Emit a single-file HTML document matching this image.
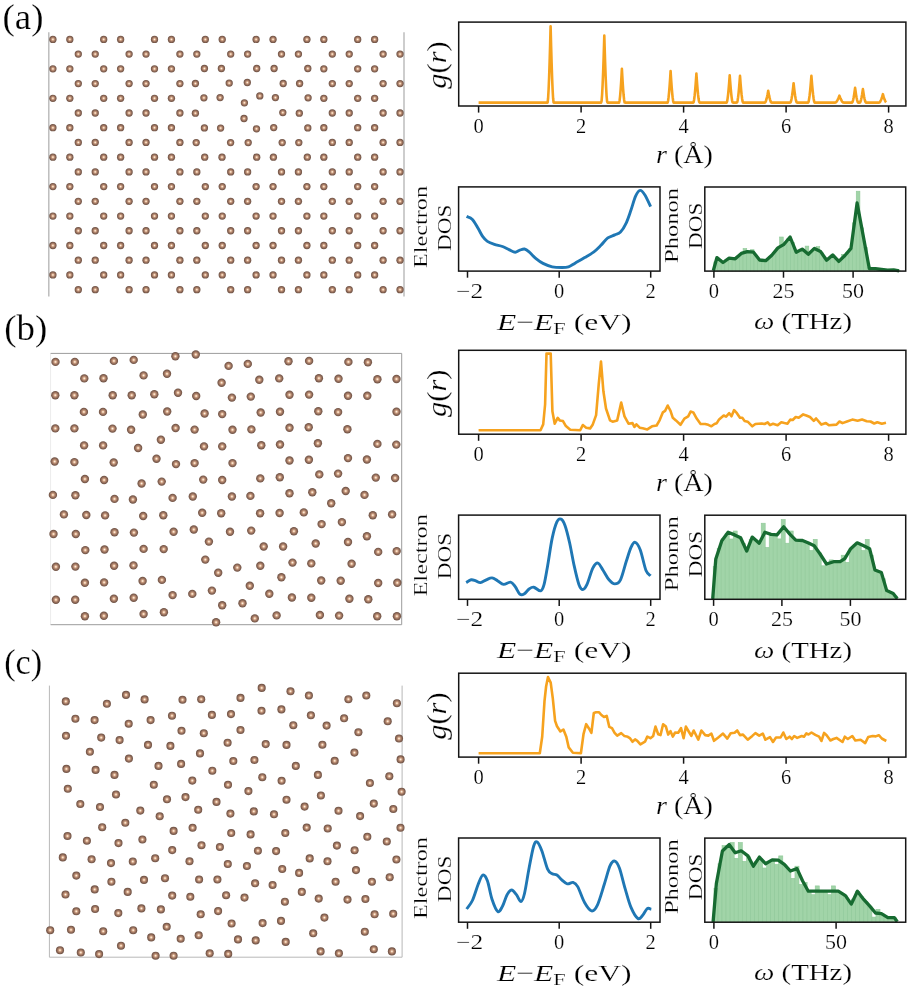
<!DOCTYPE html><html><head><meta charset="utf-8"><title>figure</title><style>html,body{margin:0;padding:0;background:#fff;overflow:hidden;}svg{display:block;}</style></head><body><svg width="907" height="989" viewBox="0 0 907 989" font-family="'Liberation Serif', 'DejaVu Serif', serif" fill="#000"><style>text{stroke:#fff;stroke-width:0.2px;paint-order:fill;}</style><defs><radialGradient id="ball" cx="0.5" cy="0.5" r="0.5"><stop offset="0" stop-color="#fff8f0"/><stop offset="0.13" stop-color="#f8dcc4"/><stop offset="0.36" stop-color="#c99b7c"/><stop offset="0.62" stop-color="#9b7361"/><stop offset="0.86" stop-color="#7b5b4b"/><stop offset="1" stop-color="#6d5245"/></radialGradient></defs><rect width="907" height="989" fill="#fff"/><text x="2.5" y="28.7" font-size="35" text-anchor="start" textLength="41" lengthAdjust="spacingAndGlyphs">(a)</text><text x="4.2" y="340.3" font-size="35" text-anchor="start" textLength="43" lengthAdjust="spacingAndGlyphs">(b)</text><text x="4.2" y="674" font-size="35" text-anchor="start" textLength="38" lengthAdjust="spacingAndGlyphs">(c)</text><g stroke="#b8b8b8" stroke-width="1.4"><line x1="48.8" y1="32.3" x2="48.8" y2="296.5"/><line x1="404" y1="32.3" x2="404" y2="296.5"/></g><circle cx="52.9" cy="39.4" r="3.65" fill="url(#ball)"/><circle cx="69.83" cy="39.4" r="3.65" fill="url(#ball)"/><circle cx="103.7" cy="39.4" r="3.65" fill="url(#ball)"/><circle cx="120.63" cy="39.4" r="3.65" fill="url(#ball)"/><circle cx="154.5" cy="39.4" r="3.65" fill="url(#ball)"/><circle cx="171.43" cy="39.4" r="3.65" fill="url(#ball)"/><circle cx="205.3" cy="39.4" r="3.65" fill="url(#ball)"/><circle cx="222.23" cy="39.4" r="3.65" fill="url(#ball)"/><circle cx="256.1" cy="39.4" r="3.65" fill="url(#ball)"/><circle cx="273.03" cy="39.4" r="3.65" fill="url(#ball)"/><circle cx="306.9" cy="39.4" r="3.65" fill="url(#ball)"/><circle cx="323.83" cy="39.4" r="3.65" fill="url(#ball)"/><circle cx="357.7" cy="39.4" r="3.65" fill="url(#ball)"/><circle cx="374.63" cy="39.4" r="3.65" fill="url(#ball)"/><circle cx="78.3" cy="54.12" r="3.65" fill="url(#ball)"/><circle cx="95.23" cy="54.12" r="3.65" fill="url(#ball)"/><circle cx="129.1" cy="54.12" r="3.65" fill="url(#ball)"/><circle cx="146.03" cy="54.12" r="3.65" fill="url(#ball)"/><circle cx="179.9" cy="54.12" r="3.65" fill="url(#ball)"/><circle cx="196.83" cy="54.12" r="3.65" fill="url(#ball)"/><circle cx="230.7" cy="54.12" r="3.65" fill="url(#ball)"/><circle cx="247.63" cy="54.12" r="3.65" fill="url(#ball)"/><circle cx="281.5" cy="54.12" r="3.65" fill="url(#ball)"/><circle cx="298.43" cy="54.12" r="3.65" fill="url(#ball)"/><circle cx="332.3" cy="54.12" r="3.65" fill="url(#ball)"/><circle cx="349.23" cy="54.12" r="3.65" fill="url(#ball)"/><circle cx="383.1" cy="54.12" r="3.65" fill="url(#ball)"/><circle cx="400.03" cy="54.12" r="3.65" fill="url(#ball)"/><circle cx="52.9" cy="68.84" r="3.65" fill="url(#ball)"/><circle cx="69.83" cy="68.84" r="3.65" fill="url(#ball)"/><circle cx="103.7" cy="68.84" r="3.65" fill="url(#ball)"/><circle cx="120.63" cy="68.84" r="3.65" fill="url(#ball)"/><circle cx="154.5" cy="68.84" r="3.65" fill="url(#ball)"/><circle cx="171.43" cy="68.84" r="3.65" fill="url(#ball)"/><circle cx="323.83" cy="68.84" r="3.65" fill="url(#ball)"/><circle cx="357.7" cy="68.84" r="3.65" fill="url(#ball)"/><circle cx="374.63" cy="68.84" r="3.65" fill="url(#ball)"/><circle cx="78.3" cy="83.56" r="3.65" fill="url(#ball)"/><circle cx="95.23" cy="83.56" r="3.65" fill="url(#ball)"/><circle cx="129.1" cy="83.56" r="3.65" fill="url(#ball)"/><circle cx="146.03" cy="83.56" r="3.65" fill="url(#ball)"/><circle cx="179.9" cy="83.56" r="3.65" fill="url(#ball)"/><circle cx="332.3" cy="83.56" r="3.65" fill="url(#ball)"/><circle cx="349.23" cy="83.56" r="3.65" fill="url(#ball)"/><circle cx="383.1" cy="83.56" r="3.65" fill="url(#ball)"/><circle cx="400.03" cy="83.56" r="3.65" fill="url(#ball)"/><circle cx="52.9" cy="98.28" r="3.65" fill="url(#ball)"/><circle cx="69.83" cy="98.28" r="3.65" fill="url(#ball)"/><circle cx="103.7" cy="98.28" r="3.65" fill="url(#ball)"/><circle cx="120.63" cy="98.28" r="3.65" fill="url(#ball)"/><circle cx="154.5" cy="98.28" r="3.65" fill="url(#ball)"/><circle cx="171.43" cy="98.28" r="3.65" fill="url(#ball)"/><circle cx="323.83" cy="98.28" r="3.65" fill="url(#ball)"/><circle cx="357.7" cy="98.28" r="3.65" fill="url(#ball)"/><circle cx="374.63" cy="98.28" r="3.65" fill="url(#ball)"/><circle cx="78.3" cy="113" r="3.65" fill="url(#ball)"/><circle cx="95.23" cy="113" r="3.65" fill="url(#ball)"/><circle cx="129.1" cy="113" r="3.65" fill="url(#ball)"/><circle cx="146.03" cy="113" r="3.65" fill="url(#ball)"/><circle cx="179.9" cy="113" r="3.65" fill="url(#ball)"/><circle cx="332.3" cy="113" r="3.65" fill="url(#ball)"/><circle cx="349.23" cy="113" r="3.65" fill="url(#ball)"/><circle cx="383.1" cy="113" r="3.65" fill="url(#ball)"/><circle cx="400.03" cy="113" r="3.65" fill="url(#ball)"/><circle cx="52.9" cy="127.72" r="3.65" fill="url(#ball)"/><circle cx="69.83" cy="127.72" r="3.65" fill="url(#ball)"/><circle cx="103.7" cy="127.72" r="3.65" fill="url(#ball)"/><circle cx="120.63" cy="127.72" r="3.65" fill="url(#ball)"/><circle cx="154.5" cy="127.72" r="3.65" fill="url(#ball)"/><circle cx="171.43" cy="127.72" r="3.65" fill="url(#ball)"/><circle cx="323.83" cy="127.72" r="3.65" fill="url(#ball)"/><circle cx="357.7" cy="127.72" r="3.65" fill="url(#ball)"/><circle cx="374.63" cy="127.72" r="3.65" fill="url(#ball)"/><circle cx="78.3" cy="142.44" r="3.65" fill="url(#ball)"/><circle cx="95.23" cy="142.44" r="3.65" fill="url(#ball)"/><circle cx="129.1" cy="142.44" r="3.65" fill="url(#ball)"/><circle cx="146.03" cy="142.44" r="3.65" fill="url(#ball)"/><circle cx="179.9" cy="142.44" r="3.65" fill="url(#ball)"/><circle cx="332.3" cy="142.44" r="3.65" fill="url(#ball)"/><circle cx="349.23" cy="142.44" r="3.65" fill="url(#ball)"/><circle cx="383.1" cy="142.44" r="3.65" fill="url(#ball)"/><circle cx="400.03" cy="142.44" r="3.65" fill="url(#ball)"/><circle cx="52.9" cy="157.16" r="3.65" fill="url(#ball)"/><circle cx="69.83" cy="157.16" r="3.65" fill="url(#ball)"/><circle cx="103.7" cy="157.16" r="3.65" fill="url(#ball)"/><circle cx="120.63" cy="157.16" r="3.65" fill="url(#ball)"/><circle cx="154.5" cy="157.16" r="3.65" fill="url(#ball)"/><circle cx="171.43" cy="157.16" r="3.65" fill="url(#ball)"/><circle cx="323.83" cy="157.16" r="3.65" fill="url(#ball)"/><circle cx="357.7" cy="157.16" r="3.65" fill="url(#ball)"/><circle cx="374.63" cy="157.16" r="3.65" fill="url(#ball)"/><circle cx="78.3" cy="171.88" r="3.65" fill="url(#ball)"/><circle cx="95.23" cy="171.88" r="3.65" fill="url(#ball)"/><circle cx="129.1" cy="171.88" r="3.65" fill="url(#ball)"/><circle cx="146.03" cy="171.88" r="3.65" fill="url(#ball)"/><circle cx="179.9" cy="171.88" r="3.65" fill="url(#ball)"/><circle cx="196.83" cy="171.88" r="3.65" fill="url(#ball)"/><circle cx="230.7" cy="171.88" r="3.65" fill="url(#ball)"/><circle cx="247.63" cy="171.88" r="3.65" fill="url(#ball)"/><circle cx="281.5" cy="171.88" r="3.65" fill="url(#ball)"/><circle cx="298.43" cy="171.88" r="3.65" fill="url(#ball)"/><circle cx="332.3" cy="171.88" r="3.65" fill="url(#ball)"/><circle cx="349.23" cy="171.88" r="3.65" fill="url(#ball)"/><circle cx="383.1" cy="171.88" r="3.65" fill="url(#ball)"/><circle cx="400.03" cy="171.88" r="3.65" fill="url(#ball)"/><circle cx="52.9" cy="186.6" r="3.65" fill="url(#ball)"/><circle cx="69.83" cy="186.6" r="3.65" fill="url(#ball)"/><circle cx="103.7" cy="186.6" r="3.65" fill="url(#ball)"/><circle cx="120.63" cy="186.6" r="3.65" fill="url(#ball)"/><circle cx="154.5" cy="186.6" r="3.65" fill="url(#ball)"/><circle cx="171.43" cy="186.6" r="3.65" fill="url(#ball)"/><circle cx="205.3" cy="186.6" r="3.65" fill="url(#ball)"/><circle cx="222.23" cy="186.6" r="3.65" fill="url(#ball)"/><circle cx="256.1" cy="186.6" r="3.65" fill="url(#ball)"/><circle cx="273.03" cy="186.6" r="3.65" fill="url(#ball)"/><circle cx="306.9" cy="186.6" r="3.65" fill="url(#ball)"/><circle cx="323.83" cy="186.6" r="3.65" fill="url(#ball)"/><circle cx="357.7" cy="186.6" r="3.65" fill="url(#ball)"/><circle cx="374.63" cy="186.6" r="3.65" fill="url(#ball)"/><circle cx="78.3" cy="201.32" r="3.65" fill="url(#ball)"/><circle cx="95.23" cy="201.32" r="3.65" fill="url(#ball)"/><circle cx="129.1" cy="201.32" r="3.65" fill="url(#ball)"/><circle cx="146.03" cy="201.32" r="3.65" fill="url(#ball)"/><circle cx="179.9" cy="201.32" r="3.65" fill="url(#ball)"/><circle cx="196.83" cy="201.32" r="3.65" fill="url(#ball)"/><circle cx="230.7" cy="201.32" r="3.65" fill="url(#ball)"/><circle cx="247.63" cy="201.32" r="3.65" fill="url(#ball)"/><circle cx="281.5" cy="201.32" r="3.65" fill="url(#ball)"/><circle cx="298.43" cy="201.32" r="3.65" fill="url(#ball)"/><circle cx="332.3" cy="201.32" r="3.65" fill="url(#ball)"/><circle cx="349.23" cy="201.32" r="3.65" fill="url(#ball)"/><circle cx="383.1" cy="201.32" r="3.65" fill="url(#ball)"/><circle cx="400.03" cy="201.32" r="3.65" fill="url(#ball)"/><circle cx="52.9" cy="216.04" r="3.65" fill="url(#ball)"/><circle cx="69.83" cy="216.04" r="3.65" fill="url(#ball)"/><circle cx="103.7" cy="216.04" r="3.65" fill="url(#ball)"/><circle cx="120.63" cy="216.04" r="3.65" fill="url(#ball)"/><circle cx="154.5" cy="216.04" r="3.65" fill="url(#ball)"/><circle cx="171.43" cy="216.04" r="3.65" fill="url(#ball)"/><circle cx="205.3" cy="216.04" r="3.65" fill="url(#ball)"/><circle cx="222.23" cy="216.04" r="3.65" fill="url(#ball)"/><circle cx="256.1" cy="216.04" r="3.65" fill="url(#ball)"/><circle cx="273.03" cy="216.04" r="3.65" fill="url(#ball)"/><circle cx="306.9" cy="216.04" r="3.65" fill="url(#ball)"/><circle cx="323.83" cy="216.04" r="3.65" fill="url(#ball)"/><circle cx="357.7" cy="216.04" r="3.65" fill="url(#ball)"/><circle cx="374.63" cy="216.04" r="3.65" fill="url(#ball)"/><circle cx="78.3" cy="230.76" r="3.65" fill="url(#ball)"/><circle cx="95.23" cy="230.76" r="3.65" fill="url(#ball)"/><circle cx="129.1" cy="230.76" r="3.65" fill="url(#ball)"/><circle cx="146.03" cy="230.76" r="3.65" fill="url(#ball)"/><circle cx="179.9" cy="230.76" r="3.65" fill="url(#ball)"/><circle cx="196.83" cy="230.76" r="3.65" fill="url(#ball)"/><circle cx="230.7" cy="230.76" r="3.65" fill="url(#ball)"/><circle cx="247.63" cy="230.76" r="3.65" fill="url(#ball)"/><circle cx="281.5" cy="230.76" r="3.65" fill="url(#ball)"/><circle cx="298.43" cy="230.76" r="3.65" fill="url(#ball)"/><circle cx="332.3" cy="230.76" r="3.65" fill="url(#ball)"/><circle cx="349.23" cy="230.76" r="3.65" fill="url(#ball)"/><circle cx="383.1" cy="230.76" r="3.65" fill="url(#ball)"/><circle cx="400.03" cy="230.76" r="3.65" fill="url(#ball)"/><circle cx="52.9" cy="245.48" r="3.65" fill="url(#ball)"/><circle cx="69.83" cy="245.48" r="3.65" fill="url(#ball)"/><circle cx="103.7" cy="245.48" r="3.65" fill="url(#ball)"/><circle cx="120.63" cy="245.48" r="3.65" fill="url(#ball)"/><circle cx="154.5" cy="245.48" r="3.65" fill="url(#ball)"/><circle cx="171.43" cy="245.48" r="3.65" fill="url(#ball)"/><circle cx="205.3" cy="245.48" r="3.65" fill="url(#ball)"/><circle cx="222.23" cy="245.48" r="3.65" fill="url(#ball)"/><circle cx="256.1" cy="245.48" r="3.65" fill="url(#ball)"/><circle cx="273.03" cy="245.48" r="3.65" fill="url(#ball)"/><circle cx="306.9" cy="245.48" r="3.65" fill="url(#ball)"/><circle cx="323.83" cy="245.48" r="3.65" fill="url(#ball)"/><circle cx="357.7" cy="245.48" r="3.65" fill="url(#ball)"/><circle cx="374.63" cy="245.48" r="3.65" fill="url(#ball)"/><circle cx="78.3" cy="260.2" r="3.65" fill="url(#ball)"/><circle cx="95.23" cy="260.2" r="3.65" fill="url(#ball)"/><circle cx="129.1" cy="260.2" r="3.65" fill="url(#ball)"/><circle cx="146.03" cy="260.2" r="3.65" fill="url(#ball)"/><circle cx="179.9" cy="260.2" r="3.65" fill="url(#ball)"/><circle cx="196.83" cy="260.2" r="3.65" fill="url(#ball)"/><circle cx="230.7" cy="260.2" r="3.65" fill="url(#ball)"/><circle cx="247.63" cy="260.2" r="3.65" fill="url(#ball)"/><circle cx="281.5" cy="260.2" r="3.65" fill="url(#ball)"/><circle cx="298.43" cy="260.2" r="3.65" fill="url(#ball)"/><circle cx="332.3" cy="260.2" r="3.65" fill="url(#ball)"/><circle cx="349.23" cy="260.2" r="3.65" fill="url(#ball)"/><circle cx="383.1" cy="260.2" r="3.65" fill="url(#ball)"/><circle cx="400.03" cy="260.2" r="3.65" fill="url(#ball)"/><circle cx="52.9" cy="274.92" r="3.65" fill="url(#ball)"/><circle cx="69.83" cy="274.92" r="3.65" fill="url(#ball)"/><circle cx="103.7" cy="274.92" r="3.65" fill="url(#ball)"/><circle cx="120.63" cy="274.92" r="3.65" fill="url(#ball)"/><circle cx="154.5" cy="274.92" r="3.65" fill="url(#ball)"/><circle cx="171.43" cy="274.92" r="3.65" fill="url(#ball)"/><circle cx="205.3" cy="274.92" r="3.65" fill="url(#ball)"/><circle cx="222.23" cy="274.92" r="3.65" fill="url(#ball)"/><circle cx="256.1" cy="274.92" r="3.65" fill="url(#ball)"/><circle cx="273.03" cy="274.92" r="3.65" fill="url(#ball)"/><circle cx="306.9" cy="274.92" r="3.65" fill="url(#ball)"/><circle cx="323.83" cy="274.92" r="3.65" fill="url(#ball)"/><circle cx="357.7" cy="274.92" r="3.65" fill="url(#ball)"/><circle cx="374.63" cy="274.92" r="3.65" fill="url(#ball)"/><circle cx="78.3" cy="289.64" r="3.65" fill="url(#ball)"/><circle cx="95.23" cy="289.64" r="3.65" fill="url(#ball)"/><circle cx="129.1" cy="289.64" r="3.65" fill="url(#ball)"/><circle cx="146.03" cy="289.64" r="3.65" fill="url(#ball)"/><circle cx="179.9" cy="289.64" r="3.65" fill="url(#ball)"/><circle cx="196.83" cy="289.64" r="3.65" fill="url(#ball)"/><circle cx="230.7" cy="289.64" r="3.65" fill="url(#ball)"/><circle cx="247.63" cy="289.64" r="3.65" fill="url(#ball)"/><circle cx="281.5" cy="289.64" r="3.65" fill="url(#ball)"/><circle cx="298.43" cy="289.64" r="3.65" fill="url(#ball)"/><circle cx="332.3" cy="289.64" r="3.65" fill="url(#ball)"/><circle cx="349.23" cy="289.64" r="3.65" fill="url(#ball)"/><circle cx="383.1" cy="289.64" r="3.65" fill="url(#ball)"/><circle cx="400.03" cy="289.64" r="3.65" fill="url(#ball)"/><circle cx="204.4" cy="68.5" r="3.65" fill="url(#ball)"/><circle cx="221.4" cy="68.5" r="3.65" fill="url(#ball)"/><circle cx="256.7" cy="68.5" r="3.65" fill="url(#ball)"/><circle cx="274.1" cy="68.5" r="3.65" fill="url(#ball)"/><circle cx="307.8" cy="68.5" r="3.65" fill="url(#ball)"/><circle cx="195.4" cy="83.5" r="3.65" fill="url(#ball)"/><circle cx="229.2" cy="83.1" r="3.65" fill="url(#ball)"/><circle cx="247.3" cy="82.5" r="3.65" fill="url(#ball)"/><circle cx="283.2" cy="83.5" r="3.65" fill="url(#ball)"/><circle cx="299.6" cy="83.5" r="3.65" fill="url(#ball)"/><circle cx="203.9" cy="97.8" r="3.65" fill="url(#ball)"/><circle cx="220.1" cy="97.6" r="3.65" fill="url(#ball)"/><circle cx="259.8" cy="95.9" r="3.65" fill="url(#ball)"/><circle cx="275.4" cy="97.6" r="3.65" fill="url(#ball)"/><circle cx="308.1" cy="97.8" r="3.65" fill="url(#ball)"/><circle cx="244.4" cy="102.8" r="3.65" fill="url(#ball)"/><circle cx="195.4" cy="113.2" r="3.65" fill="url(#ball)"/><circle cx="244" cy="118.5" r="3.65" fill="url(#ball)"/><circle cx="282.8" cy="112.6" r="3.65" fill="url(#ball)"/><circle cx="299.3" cy="113.2" r="3.65" fill="url(#ball)"/><circle cx="204.4" cy="127.9" r="3.65" fill="url(#ball)"/><circle cx="220.6" cy="128.1" r="3.65" fill="url(#ball)"/><circle cx="256.5" cy="128.8" r="3.65" fill="url(#ball)"/><circle cx="273.7" cy="127.6" r="3.65" fill="url(#ball)"/><circle cx="307.8" cy="127.9" r="3.65" fill="url(#ball)"/><circle cx="196.2" cy="142.6" r="3.65" fill="url(#ball)"/><circle cx="230.6" cy="142.6" r="3.65" fill="url(#ball)"/><circle cx="248.2" cy="142.6" r="3.65" fill="url(#ball)"/><circle cx="282.2" cy="142.6" r="3.65" fill="url(#ball)"/><circle cx="298.8" cy="142.6" r="3.65" fill="url(#ball)"/><circle cx="204.7" cy="157.2" r="3.65" fill="url(#ball)"/><circle cx="222" cy="157.2" r="3.65" fill="url(#ball)"/><circle cx="256.7" cy="157.2" r="3.65" fill="url(#ball)"/><circle cx="273.4" cy="157.2" r="3.65" fill="url(#ball)"/><circle cx="307.3" cy="157.2" r="3.65" fill="url(#ball)"/><line x1="50.6" y1="353.4" x2="50.6" y2="624.7" stroke="#ececec" stroke-width="1"/><polyline points="50.6,353.4 401.7,353.4 401.7,624.7 50.6,624.7" fill="none" stroke="#9c9c9c" stroke-width="1"/><circle cx="55.5" cy="361.9" r="4.2" fill="url(#ball)"/><circle cx="74.8" cy="361.9" r="4.2" fill="url(#ball)"/><circle cx="113.9" cy="360.9" r="4.2" fill="url(#ball)"/><circle cx="133.7" cy="359.9" r="4.2" fill="url(#ball)"/><circle cx="175.4" cy="356.3" r="4.2" fill="url(#ball)"/><circle cx="195.8" cy="354.5" r="4.2" fill="url(#ball)"/><circle cx="84.3" cy="378.4" r="4.2" fill="url(#ball)"/><circle cx="103.5" cy="378.2" r="4.2" fill="url(#ball)"/><circle cx="143.6" cy="375.4" r="4.2" fill="url(#ball)"/><circle cx="167" cy="373.8" r="4.2" fill="url(#ball)"/><circle cx="221.6" cy="382.7" r="4.2" fill="url(#ball)"/><circle cx="55.3" cy="395.2" r="4.2" fill="url(#ball)"/><circle cx="74.4" cy="395.2" r="4.2" fill="url(#ball)"/><circle cx="112.7" cy="395.2" r="4.2" fill="url(#ball)"/><circle cx="131.7" cy="395.2" r="4.2" fill="url(#ball)"/><circle cx="154.3" cy="394.2" r="4.2" fill="url(#ball)"/><circle cx="178" cy="392.7" r="4.2" fill="url(#ball)"/><circle cx="196.2" cy="396" r="4.2" fill="url(#ball)"/><circle cx="83.9" cy="411.9" r="4.2" fill="url(#ball)"/><circle cx="103" cy="411.9" r="4.2" fill="url(#ball)"/><circle cx="142.8" cy="414.5" r="4.2" fill="url(#ball)"/><circle cx="167.2" cy="411.5" r="4.2" fill="url(#ball)"/><circle cx="204.6" cy="413.5" r="4.2" fill="url(#ball)"/><circle cx="222.2" cy="414.1" r="4.2" fill="url(#ball)"/><circle cx="55.3" cy="428.4" r="4.2" fill="url(#ball)"/><circle cx="74.4" cy="428.4" r="4.2" fill="url(#ball)"/><circle cx="112.5" cy="428.6" r="4.2" fill="url(#ball)"/><circle cx="131.1" cy="429.8" r="4.2" fill="url(#ball)"/><circle cx="175.6" cy="428" r="4.2" fill="url(#ball)"/><circle cx="194.6" cy="429.6" r="4.2" fill="url(#ball)"/><circle cx="160.9" cy="439.7" r="4.2" fill="url(#ball)"/><circle cx="84.1" cy="445.4" r="4.2" fill="url(#ball)"/><circle cx="103.1" cy="445.4" r="4.2" fill="url(#ball)"/><circle cx="138.1" cy="448" r="4.2" fill="url(#ball)"/><circle cx="204" cy="446.4" r="4.2" fill="url(#ball)"/><circle cx="222.2" cy="446.4" r="4.2" fill="url(#ball)"/><circle cx="54.7" cy="461.5" r="4.2" fill="url(#ball)"/><circle cx="74.4" cy="462.1" r="4.2" fill="url(#ball)"/><circle cx="113.7" cy="462.5" r="4.2" fill="url(#ball)"/><circle cx="156.5" cy="458.7" r="4.2" fill="url(#ball)"/><circle cx="176" cy="464.1" r="4.2" fill="url(#ball)"/><circle cx="194.6" cy="463.1" r="4.2" fill="url(#ball)"/><circle cx="84.9" cy="479" r="4.2" fill="url(#ball)"/><circle cx="104.1" cy="480" r="4.2" fill="url(#ball)"/><circle cx="141.6" cy="483.5" r="4.2" fill="url(#ball)"/><circle cx="161.7" cy="481.6" r="4.2" fill="url(#ball)"/><circle cx="203.2" cy="479.6" r="4.2" fill="url(#ball)"/><circle cx="222.2" cy="480" r="4.2" fill="url(#ball)"/><circle cx="228.6" cy="365.9" r="4.2" fill="url(#ball)"/><circle cx="247.8" cy="363.9" r="4.2" fill="url(#ball)"/><circle cx="288.5" cy="361.3" r="4.2" fill="url(#ball)"/><circle cx="309.1" cy="360.9" r="4.2" fill="url(#ball)"/><circle cx="348.4" cy="361.9" r="4.2" fill="url(#ball)"/><circle cx="367.9" cy="362.3" r="4.2" fill="url(#ball)"/><circle cx="259.3" cy="379.8" r="4.2" fill="url(#ball)"/><circle cx="279.2" cy="378.4" r="4.2" fill="url(#ball)"/><circle cx="318.9" cy="378.2" r="4.2" fill="url(#ball)"/><circle cx="338.5" cy="378.8" r="4.2" fill="url(#ball)"/><circle cx="377.4" cy="379.2" r="4.2" fill="url(#ball)"/><circle cx="396.5" cy="379" r="4.2" fill="url(#ball)"/><circle cx="231.9" cy="397.6" r="4.2" fill="url(#ball)"/><circle cx="250.8" cy="396.6" r="4.2" fill="url(#ball)"/><circle cx="289.5" cy="394.8" r="4.2" fill="url(#ball)"/><circle cx="309.1" cy="394.6" r="4.2" fill="url(#ball)"/><circle cx="348" cy="395.8" r="4.2" fill="url(#ball)"/><circle cx="367.3" cy="395.8" r="4.2" fill="url(#ball)"/><circle cx="260.7" cy="412.5" r="4.2" fill="url(#ball)"/><circle cx="280" cy="411.7" r="4.2" fill="url(#ball)"/><circle cx="318.3" cy="411.3" r="4.2" fill="url(#ball)"/><circle cx="338.1" cy="412.1" r="4.2" fill="url(#ball)"/><circle cx="396.5" cy="411.7" r="4.2" fill="url(#ball)"/><circle cx="232.5" cy="429.8" r="4.2" fill="url(#ball)"/><circle cx="251.4" cy="429.4" r="4.2" fill="url(#ball)"/><circle cx="289.5" cy="427.8" r="4.2" fill="url(#ball)"/><circle cx="308.7" cy="427.2" r="4.2" fill="url(#ball)"/><circle cx="347.4" cy="429.2" r="4.2" fill="url(#ball)"/><circle cx="261.3" cy="445.2" r="4.2" fill="url(#ball)"/><circle cx="280" cy="444.5" r="4.2" fill="url(#ball)"/><circle cx="317.9" cy="443.3" r="4.2" fill="url(#ball)"/><circle cx="377.4" cy="443.9" r="4.2" fill="url(#ball)"/><circle cx="396.3" cy="444.6" r="4.2" fill="url(#ball)"/><circle cx="232.5" cy="463.1" r="4.2" fill="url(#ball)"/><circle cx="289.5" cy="460.5" r="4.2" fill="url(#ball)"/><circle cx="308.9" cy="459.7" r="4.2" fill="url(#ball)"/><circle cx="348" cy="458.1" r="4.2" fill="url(#ball)"/><circle cx="366.9" cy="459.5" r="4.2" fill="url(#ball)"/><circle cx="260.3" cy="478.4" r="4.2" fill="url(#ball)"/><circle cx="279.8" cy="477.2" r="4.2" fill="url(#ball)"/><circle cx="319.3" cy="474.4" r="4.2" fill="url(#ball)"/><circle cx="338.1" cy="473.6" r="4.2" fill="url(#ball)"/><circle cx="375.8" cy="477.6" r="4.2" fill="url(#ball)"/><circle cx="395.1" cy="478" r="4.2" fill="url(#ball)"/><circle cx="52.9" cy="494.9" r="4.2" fill="url(#ball)"/><circle cx="75.4" cy="495.3" r="4.2" fill="url(#ball)"/><circle cx="114.5" cy="498.9" r="4.2" fill="url(#ball)"/><circle cx="132.9" cy="499.5" r="4.2" fill="url(#ball)"/><circle cx="172.6" cy="497.9" r="4.2" fill="url(#ball)"/><circle cx="192.8" cy="496.5" r="4.2" fill="url(#ball)"/><circle cx="63.9" cy="514.4" r="4.2" fill="url(#ball)"/><circle cx="86.3" cy="515" r="4.2" fill="url(#ball)"/><circle cx="105.1" cy="515.4" r="4.2" fill="url(#ball)"/><circle cx="143.2" cy="516" r="4.2" fill="url(#ball)"/><circle cx="163.3" cy="515.2" r="4.2" fill="url(#ball)"/><circle cx="202.2" cy="512.8" r="4.2" fill="url(#ball)"/><circle cx="221.2" cy="513.2" r="4.2" fill="url(#ball)"/><circle cx="53.5" cy="534" r="4.2" fill="url(#ball)"/><circle cx="75.8" cy="534" r="4.2" fill="url(#ball)"/><circle cx="114.5" cy="532.2" r="4.2" fill="url(#ball)"/><circle cx="133.9" cy="532.6" r="4.2" fill="url(#ball)"/><circle cx="173.6" cy="531.8" r="4.2" fill="url(#ball)"/><circle cx="193.8" cy="529.5" r="4.2" fill="url(#ball)"/><circle cx="208.9" cy="541.6" r="4.2" fill="url(#ball)"/><circle cx="85.3" cy="550.1" r="4.2" fill="url(#ball)"/><circle cx="104.5" cy="549.5" r="4.2" fill="url(#ball)"/><circle cx="143.6" cy="548.9" r="4.2" fill="url(#ball)"/><circle cx="163.7" cy="549.1" r="4.2" fill="url(#ball)"/><circle cx="205.3" cy="559.6" r="4.2" fill="url(#ball)"/><circle cx="55.9" cy="566.8" r="4.2" fill="url(#ball)"/><circle cx="75.4" cy="566.6" r="4.2" fill="url(#ball)"/><circle cx="114.1" cy="565.8" r="4.2" fill="url(#ball)"/><circle cx="133.5" cy="565.4" r="4.2" fill="url(#ball)"/><circle cx="218.2" cy="572.7" r="4.2" fill="url(#ball)"/><circle cx="84.9" cy="582.8" r="4.2" fill="url(#ball)"/><circle cx="104.1" cy="582.4" r="4.2" fill="url(#ball)"/><circle cx="142.6" cy="581" r="4.2" fill="url(#ball)"/><circle cx="161.9" cy="579.9" r="4.2" fill="url(#ball)"/><circle cx="55.9" cy="599.7" r="4.2" fill="url(#ball)"/><circle cx="75.2" cy="599.7" r="4.2" fill="url(#ball)"/><circle cx="113.9" cy="598.7" r="4.2" fill="url(#ball)"/><circle cx="133.7" cy="597.7" r="4.2" fill="url(#ball)"/><circle cx="172.6" cy="595.1" r="4.2" fill="url(#ball)"/><circle cx="192.3" cy="593.9" r="4.2" fill="url(#ball)"/><circle cx="211.9" cy="590.6" r="4.2" fill="url(#ball)"/><circle cx="222.2" cy="605.3" r="4.2" fill="url(#ball)"/><circle cx="84.9" cy="616.2" r="4.2" fill="url(#ball)"/><circle cx="103.9" cy="615.8" r="4.2" fill="url(#ball)"/><circle cx="143.6" cy="614" r="4.2" fill="url(#ball)"/><circle cx="163.9" cy="612.2" r="4.2" fill="url(#ball)"/><circle cx="216.1" cy="622.3" r="4.2" fill="url(#ball)"/><circle cx="231.9" cy="496.5" r="4.2" fill="url(#ball)"/><circle cx="250.4" cy="495.9" r="4.2" fill="url(#ball)"/><circle cx="289.5" cy="493.3" r="4.2" fill="url(#ball)"/><circle cx="312.3" cy="492.3" r="4.2" fill="url(#ball)"/><circle cx="345.7" cy="491" r="4.2" fill="url(#ball)"/><circle cx="364.5" cy="494.9" r="4.2" fill="url(#ball)"/><circle cx="331.2" cy="503.3" r="4.2" fill="url(#ball)"/><circle cx="260.1" cy="513.2" r="4.2" fill="url(#ball)"/><circle cx="279.6" cy="513" r="4.2" fill="url(#ball)"/><circle cx="303.8" cy="512.4" r="4.2" fill="url(#ball)"/><circle cx="372.8" cy="515.2" r="4.2" fill="url(#ball)"/><circle cx="392.1" cy="514.4" r="4.2" fill="url(#ball)"/><circle cx="321.6" cy="524.1" r="4.2" fill="url(#ball)"/><circle cx="341.9" cy="522.1" r="4.2" fill="url(#ball)"/><circle cx="230" cy="531.8" r="4.2" fill="url(#ball)"/><circle cx="251.2" cy="530.6" r="4.2" fill="url(#ball)"/><circle cx="293.9" cy="531.2" r="4.2" fill="url(#ball)"/><circle cx="366.9" cy="536.2" r="4.2" fill="url(#ball)"/><circle cx="263.7" cy="546.5" r="4.2" fill="url(#ball)"/><circle cx="283.1" cy="546.5" r="4.2" fill="url(#ball)"/><circle cx="315.7" cy="543.5" r="4.2" fill="url(#ball)"/><circle cx="348" cy="542" r="4.2" fill="url(#ball)"/><circle cx="378.2" cy="551.9" r="4.2" fill="url(#ball)"/><circle cx="396.7" cy="551.1" r="4.2" fill="url(#ball)"/><circle cx="237.3" cy="567.6" r="4.2" fill="url(#ball)"/><circle cx="260.3" cy="565.8" r="4.2" fill="url(#ball)"/><circle cx="292.5" cy="562.6" r="4.2" fill="url(#ball)"/><circle cx="311.3" cy="563.4" r="4.2" fill="url(#ball)"/><circle cx="351.6" cy="563.8" r="4.2" fill="url(#ball)"/><circle cx="281.4" cy="577.3" r="4.2" fill="url(#ball)"/><circle cx="249.8" cy="585.8" r="4.2" fill="url(#ball)"/><circle cx="321.2" cy="580.5" r="4.2" fill="url(#ball)"/><circle cx="340.7" cy="580.7" r="4.2" fill="url(#ball)"/><circle cx="378.2" cy="583" r="4.2" fill="url(#ball)"/><circle cx="397.3" cy="582.8" r="4.2" fill="url(#ball)"/><circle cx="269.3" cy="593.8" r="4.2" fill="url(#ball)"/><circle cx="291.9" cy="597.5" r="4.2" fill="url(#ball)"/><circle cx="311.3" cy="597.7" r="4.2" fill="url(#ball)"/><circle cx="349.4" cy="598.7" r="4.2" fill="url(#ball)"/><circle cx="368.3" cy="599.3" r="4.2" fill="url(#ball)"/><circle cx="242.5" cy="603.3" r="4.2" fill="url(#ball)"/><circle cx="254.8" cy="618.4" r="4.2" fill="url(#ball)"/><circle cx="276.6" cy="615.4" r="4.2" fill="url(#ball)"/><circle cx="319.9" cy="615" r="4.2" fill="url(#ball)"/><circle cx="339.1" cy="615.6" r="4.2" fill="url(#ball)"/><circle cx="377.2" cy="616.2" r="4.2" fill="url(#ball)"/><circle cx="396.9" cy="616.2" r="4.2" fill="url(#ball)"/><g stroke="#b8b8b8" stroke-width="1"><line x1="49.4" y1="685.6" x2="49.4" y2="957.2"/><line x1="402.1" y1="685.6" x2="402.1" y2="957.2"/><line x1="49.4" y1="957.2" x2="402.1" y2="957.2"/></g><circle cx="65.8" cy="701.4" r="4.05" fill="url(#ball)"/><circle cx="106.9" cy="703.8" r="4.05" fill="url(#ball)"/><circle cx="126" cy="694.9" r="4.05" fill="url(#ball)"/><circle cx="144.6" cy="699.4" r="4.05" fill="url(#ball)"/><circle cx="182.5" cy="699.8" r="4.05" fill="url(#ball)"/><circle cx="201.2" cy="699.2" r="4.05" fill="url(#ball)"/><circle cx="75.4" cy="718.7" r="4.05" fill="url(#ball)"/><circle cx="94.6" cy="720.1" r="4.05" fill="url(#ball)"/><circle cx="128.7" cy="723.7" r="4.05" fill="url(#ball)"/><circle cx="150.6" cy="720.1" r="4.05" fill="url(#ball)"/><circle cx="172" cy="715.7" r="4.05" fill="url(#ball)"/><circle cx="211.9" cy="714.9" r="4.05" fill="url(#ball)"/><circle cx="66" cy="735.8" r="4.05" fill="url(#ball)"/><circle cx="101.2" cy="737.6" r="4.05" fill="url(#ball)"/><circle cx="119.6" cy="740.1" r="4.05" fill="url(#ball)"/><circle cx="148" cy="744.9" r="4.05" fill="url(#ball)"/><circle cx="170.4" cy="745.9" r="4.05" fill="url(#ball)"/><circle cx="181.5" cy="730.8" r="4.05" fill="url(#ball)"/><circle cx="203.8" cy="733.2" r="4.05" fill="url(#ball)"/><circle cx="89.9" cy="751.8" r="4.05" fill="url(#ball)"/><circle cx="128.9" cy="758.6" r="4.05" fill="url(#ball)"/><circle cx="200" cy="753.4" r="4.05" fill="url(#ball)"/><circle cx="66.4" cy="768.9" r="4.05" fill="url(#ball)"/><circle cx="95.6" cy="769.9" r="4.05" fill="url(#ball)"/><circle cx="114.5" cy="774.9" r="4.05" fill="url(#ball)"/><circle cx="158.5" cy="765.9" r="4.05" fill="url(#ball)"/><circle cx="181.1" cy="763.9" r="4.05" fill="url(#ball)"/><circle cx="212.3" cy="770.7" r="4.05" fill="url(#ball)"/><circle cx="67.8" cy="788.8" r="4.05" fill="url(#ball)"/><circle cx="153.8" cy="784.8" r="4.05" fill="url(#ball)"/><circle cx="192.3" cy="780.6" r="4.05" fill="url(#ball)"/><circle cx="116" cy="794.5" r="4.05" fill="url(#ball)"/><circle cx="167" cy="799.3" r="4.05" fill="url(#ball)"/><circle cx="185.5" cy="797.1" r="4.05" fill="url(#ball)"/><circle cx="216.5" cy="801.9" r="4.05" fill="url(#ball)"/><circle cx="80.3" cy="804" r="4.05" fill="url(#ball)"/><circle cx="100" cy="807" r="4.05" fill="url(#ball)"/><circle cx="140.3" cy="810.6" r="4.05" fill="url(#ball)"/><circle cx="159.7" cy="816.3" r="4.05" fill="url(#ball)"/><circle cx="198.2" cy="809.8" r="4.05" fill="url(#ball)"/><circle cx="261.7" cy="687.9" r="4.05" fill="url(#ball)"/><circle cx="290.5" cy="691.3" r="4.05" fill="url(#ball)"/><circle cx="308.9" cy="695.5" r="4.05" fill="url(#ball)"/><circle cx="348.4" cy="699.2" r="4.05" fill="url(#ball)"/><circle cx="366.3" cy="695.5" r="4.05" fill="url(#ball)"/><circle cx="396.9" cy="703.2" r="4.05" fill="url(#ball)"/><circle cx="240.5" cy="697.9" r="4.05" fill="url(#ball)"/><circle cx="231" cy="714.1" r="4.05" fill="url(#ball)"/><circle cx="261.5" cy="710.8" r="4.05" fill="url(#ball)"/><circle cx="281.4" cy="709.4" r="4.05" fill="url(#ball)"/><circle cx="310.9" cy="715.3" r="4.05" fill="url(#ball)"/><circle cx="344.1" cy="718.3" r="4.05" fill="url(#ball)"/><circle cx="387.7" cy="721.3" r="4.05" fill="url(#ball)"/><circle cx="293.3" cy="725.2" r="4.05" fill="url(#ball)"/><circle cx="326.6" cy="725.6" r="4.05" fill="url(#ball)"/><circle cx="358.4" cy="732.2" r="4.05" fill="url(#ball)"/><circle cx="240.5" cy="730" r="4.05" fill="url(#ball)"/><circle cx="227.6" cy="742.7" r="4.05" fill="url(#ball)"/><circle cx="265.7" cy="744.1" r="4.05" fill="url(#ball)"/><circle cx="286.5" cy="744.9" r="4.05" fill="url(#ball)"/><circle cx="322.4" cy="744.7" r="4.05" fill="url(#ball)"/><circle cx="399" cy="738.5" r="4.05" fill="url(#ball)"/><circle cx="354.4" cy="752.6" r="4.05" fill="url(#ball)"/><circle cx="233.3" cy="761" r="4.05" fill="url(#ball)"/><circle cx="254.4" cy="760" r="4.05" fill="url(#ball)"/><circle cx="295.8" cy="765.9" r="4.05" fill="url(#ball)"/><circle cx="334.7" cy="760.8" r="4.05" fill="url(#ball)"/><circle cx="400.6" cy="759.4" r="4.05" fill="url(#ball)"/><circle cx="262.3" cy="777.2" r="4.05" fill="url(#ball)"/><circle cx="281.6" cy="780.8" r="4.05" fill="url(#ball)"/><circle cx="317.9" cy="774.9" r="4.05" fill="url(#ball)"/><circle cx="389.3" cy="776.2" r="4.05" fill="url(#ball)"/><circle cx="369.9" cy="783" r="4.05" fill="url(#ball)"/><circle cx="228" cy="784.8" r="4.05" fill="url(#ball)"/><circle cx="248.4" cy="791.1" r="4.05" fill="url(#ball)"/><circle cx="320.9" cy="795.5" r="4.05" fill="url(#ball)"/><circle cx="401.6" cy="791.7" r="4.05" fill="url(#ball)"/><circle cx="286.5" cy="799.7" r="4.05" fill="url(#ball)"/><circle cx="304.6" cy="806.6" r="4.05" fill="url(#ball)"/><circle cx="373.8" cy="803.6" r="4.05" fill="url(#ball)"/><circle cx="393.3" cy="809" r="4.05" fill="url(#ball)"/><circle cx="230.4" cy="813.6" r="4.05" fill="url(#ball)"/><circle cx="253.8" cy="811.4" r="4.05" fill="url(#ball)"/><circle cx="274" cy="814.3" r="4.05" fill="url(#ball)"/><circle cx="338.5" cy="810.8" r="4.05" fill="url(#ball)"/><circle cx="360.1" cy="816.1" r="4.05" fill="url(#ball)"/><circle cx="102.2" cy="827.2" r="4.05" fill="url(#ball)"/><circle cx="125.3" cy="822.8" r="4.05" fill="url(#ball)"/><circle cx="173.6" cy="830.9" r="4.05" fill="url(#ball)"/><circle cx="192.6" cy="827.8" r="4.05" fill="url(#ball)"/><circle cx="67.5" cy="836" r="4.05" fill="url(#ball)"/><circle cx="86.9" cy="840.7" r="4.05" fill="url(#ball)"/><circle cx="118.5" cy="843.1" r="4.05" fill="url(#ball)"/><circle cx="142.4" cy="839.5" r="4.05" fill="url(#ball)"/><circle cx="172.2" cy="850.1" r="4.05" fill="url(#ball)"/><circle cx="201.5" cy="845.2" r="4.05" fill="url(#ball)"/><circle cx="219.9" cy="847" r="4.05" fill="url(#ball)"/><circle cx="62.8" cy="857.4" r="4.05" fill="url(#ball)"/><circle cx="91.6" cy="859.3" r="4.05" fill="url(#ball)"/><circle cx="111" cy="863.1" r="4.05" fill="url(#ball)"/><circle cx="132.8" cy="861.5" r="4.05" fill="url(#ball)"/><circle cx="155.2" cy="858.2" r="4.05" fill="url(#ball)"/><circle cx="189.5" cy="861.3" r="4.05" fill="url(#ball)"/><circle cx="76.3" cy="875.6" r="4.05" fill="url(#ball)"/><circle cx="111.4" cy="881.7" r="4.05" fill="url(#ball)"/><circle cx="144" cy="879.9" r="4.05" fill="url(#ball)"/><circle cx="165" cy="878.2" r="4.05" fill="url(#ball)"/><circle cx="199.1" cy="879.5" r="4.05" fill="url(#ball)"/><circle cx="217.4" cy="879.5" r="4.05" fill="url(#ball)"/><circle cx="94.7" cy="889.4" r="4.05" fill="url(#ball)"/><circle cx="127.7" cy="891.9" r="4.05" fill="url(#ball)"/><circle cx="65.5" cy="894.5" r="4.05" fill="url(#ball)"/><circle cx="172.2" cy="895.6" r="4.05" fill="url(#ball)"/><circle cx="190.3" cy="896.8" r="4.05" fill="url(#ball)"/><circle cx="76.3" cy="911.3" r="4.05" fill="url(#ball)"/><circle cx="95.1" cy="909" r="4.05" fill="url(#ball)"/><circle cx="118.3" cy="913.1" r="4.05" fill="url(#ball)"/><circle cx="141.4" cy="908.4" r="4.05" fill="url(#ball)"/><circle cx="160.9" cy="909.4" r="4.05" fill="url(#ball)"/><circle cx="200.7" cy="914.3" r="4.05" fill="url(#ball)"/><circle cx="218.1" cy="911.1" r="4.05" fill="url(#ball)"/><circle cx="50.2" cy="930.2" r="4.05" fill="url(#ball)"/><circle cx="71" cy="929.8" r="4.05" fill="url(#ball)"/><circle cx="103.2" cy="931.3" r="4.05" fill="url(#ball)"/><circle cx="133.2" cy="930.2" r="4.05" fill="url(#ball)"/><circle cx="151.2" cy="937.4" r="4.05" fill="url(#ball)"/><circle cx="166.7" cy="926.8" r="4.05" fill="url(#ball)"/><circle cx="180.7" cy="938.8" r="4.05" fill="url(#ball)"/><circle cx="198.7" cy="935.3" r="4.05" fill="url(#ball)"/><circle cx="60" cy="950.2" r="4.05" fill="url(#ball)"/><circle cx="80.8" cy="952.5" r="4.05" fill="url(#ball)"/><circle cx="99.1" cy="954.1" r="4.05" fill="url(#ball)"/><circle cx="121" cy="945.7" r="4.05" fill="url(#ball)"/><circle cx="155.6" cy="955.7" r="4.05" fill="url(#ball)"/><circle cx="173.6" cy="955.7" r="4.05" fill="url(#ball)"/><circle cx="209.7" cy="953.3" r="4.05" fill="url(#ball)"/><circle cx="231.2" cy="833" r="4.05" fill="url(#ball)"/><circle cx="250.6" cy="834.4" r="4.05" fill="url(#ball)"/><circle cx="285.3" cy="833" r="4.05" fill="url(#ball)"/><circle cx="306.7" cy="827.6" r="4.05" fill="url(#ball)"/><circle cx="327.7" cy="828.5" r="4.05" fill="url(#ball)"/><circle cx="400.5" cy="827.8" r="4.05" fill="url(#ball)"/><circle cx="367.3" cy="836.8" r="4.05" fill="url(#ball)"/><circle cx="386.8" cy="841.5" r="4.05" fill="url(#ball)"/><circle cx="257.9" cy="850.7" r="4.05" fill="url(#ball)"/><circle cx="276.1" cy="851.1" r="4.05" fill="url(#ball)"/><circle cx="336.9" cy="845.6" r="4.05" fill="url(#ball)"/><circle cx="354.6" cy="850.3" r="4.05" fill="url(#ball)"/><circle cx="309.7" cy="858.4" r="4.05" fill="url(#ball)"/><circle cx="327.5" cy="861.3" r="4.05" fill="url(#ball)"/><circle cx="396.4" cy="859.5" r="4.05" fill="url(#ball)"/><circle cx="227.8" cy="864" r="4.05" fill="url(#ball)"/><circle cx="246.9" cy="866" r="4.05" fill="url(#ball)"/><circle cx="282.2" cy="869" r="4.05" fill="url(#ball)"/><circle cx="299.1" cy="872.9" r="4.05" fill="url(#ball)"/><circle cx="356" cy="870.1" r="4.05" fill="url(#ball)"/><circle cx="255.1" cy="883.3" r="4.05" fill="url(#ball)"/><circle cx="272.6" cy="885" r="4.05" fill="url(#ball)"/><circle cx="335.6" cy="881.7" r="4.05" fill="url(#ball)"/><circle cx="371.9" cy="881.7" r="4.05" fill="url(#ball)"/><circle cx="389.7" cy="877.2" r="4.05" fill="url(#ball)"/><circle cx="226.1" cy="895.2" r="4.05" fill="url(#ball)"/><circle cx="244.5" cy="897.6" r="4.05" fill="url(#ball)"/><circle cx="284.9" cy="901.7" r="4.05" fill="url(#ball)"/><circle cx="301.8" cy="891.9" r="4.05" fill="url(#ball)"/><circle cx="318.7" cy="898.6" r="4.05" fill="url(#ball)"/><circle cx="347.5" cy="899.6" r="4.05" fill="url(#ball)"/><circle cx="365.4" cy="899" r="4.05" fill="url(#ball)"/><circle cx="374.6" cy="914.3" r="4.05" fill="url(#ball)"/><circle cx="393.2" cy="913.7" r="4.05" fill="url(#ball)"/><circle cx="324.4" cy="917.6" r="4.05" fill="url(#ball)"/><circle cx="231.6" cy="923.5" r="4.05" fill="url(#ball)"/><circle cx="262.6" cy="923.1" r="4.05" fill="url(#ball)"/><circle cx="281" cy="920.9" r="4.05" fill="url(#ball)"/><circle cx="313.2" cy="933.3" r="4.05" fill="url(#ball)"/><circle cx="364.8" cy="931.7" r="4.05" fill="url(#ball)"/><circle cx="238" cy="939.4" r="4.05" fill="url(#ball)"/><circle cx="255.7" cy="940.4" r="4.05" fill="url(#ball)"/><circle cx="285.7" cy="941.9" r="4.05" fill="url(#ball)"/><circle cx="228.2" cy="953.9" r="4.05" fill="url(#ball)"/><circle cx="320.6" cy="951.4" r="4.05" fill="url(#ball)"/><circle cx="338.9" cy="953.3" r="4.05" fill="url(#ball)"/><circle cx="373.8" cy="949.2" r="4.05" fill="url(#ball)"/><circle cx="391.9" cy="951.4" r="4.05" fill="url(#ball)"/><polyline points="478.6,102.6 479.1,102.6 479.6,102.6 480.1,102.6 480.6,102.6 481.1,102.6 481.6,102.6 482.1,102.6 482.6,102.6 483.1,102.6 483.6,102.6 484.1,102.6 484.6,102.6 485.1,102.6 485.6,102.6 486.1,102.6 486.6,102.6 487.1,102.6 487.6,102.6 488.1,102.6 488.6,102.6 489.1,102.6 489.6,102.6 490.1,102.6 490.6,102.6 491.1,102.6 491.6,102.6 492.1,102.6 492.6,102.6 493.1,102.6 493.6,102.6 494.1,102.6 494.6,102.6 495.1,102.6 495.6,102.6 496.1,102.6 496.6,102.6 497.1,102.6 497.6,102.6 498.1,102.6 498.6,102.6 499.1,102.6 499.6,102.6 500.1,102.6 500.6,102.6 501.1,102.6 501.6,102.6 502.1,102.6 502.6,102.6 503.1,102.6 503.6,102.6 504.1,102.6 504.6,102.6 505.1,102.6 505.6,102.6 506.1,102.6 506.6,102.6 507.1,102.6 507.6,102.6 508.1,102.6 508.6,102.6 509.1,102.6 509.6,102.6 510.1,102.6 510.6,102.6 511.1,102.6 511.6,102.6 512.1,102.6 512.6,102.6 513.1,102.6 513.6,102.6 514.1,102.6 514.6,102.6 515.1,102.6 515.6,102.6 516.1,102.6 516.6,102.6 517.1,102.6 517.6,102.6 518.1,102.6 518.6,102.6 519.1,102.6 519.6,102.6 520.1,102.6 520.6,102.6 521.1,102.6 521.6,102.6 522.1,102.6 522.6,102.6 523.1,102.6 523.6,102.6 524.1,102.6 524.6,102.6 525.1,102.6 525.6,102.6 526.1,102.6 526.6,102.6 527.1,102.6 527.6,102.6 528.1,102.6 528.6,102.6 529.1,102.6 529.6,102.6 530.1,102.6 530.6,102.6 531.1,102.6 531.6,102.6 532.1,102.6 532.6,102.6 533.1,102.6 533.6,102.6 534.1,102.6 534.6,102.6 535.1,102.6 535.6,102.6 536.1,102.6 536.6,102.6 537.1,102.6 537.6,102.6 538.1,102.6 538.6,102.6 539.1,102.6 539.6,102.6 540.1,102.6 540.6,102.6 541.1,102.6 541.6,102.6 542.1,102.6 542.6,102.6 543.1,102.6 543.6,102.6 544.1,102.6 544.6,102.6 545.1,102.6 545.6,102.6 546.1,102.6 546.6,102.6 547.1,102.6 547.6,102.6 548.1,98.27 548.6,89.46 549.1,77.46 549.6,62.77 550.1,45.68 550.6,26.4 551.1,45.68 551.6,62.77 552.1,77.46 552.6,89.46 553.1,98.27 553.6,102.6 554.1,102.6 554.6,102.6 555.1,102.6 555.6,102.6 556.1,102.6 556.6,102.6 557.1,102.6 557.6,102.6 558.1,102.6 558.6,102.6 559.1,102.6 559.6,102.6 560.1,102.6 560.6,102.6 561.1,102.6 561.6,102.6 562.1,102.6 562.6,102.6 563.1,102.6 563.6,102.6 564.1,102.6 564.6,102.6 565.1,102.6 565.6,102.6 566.1,102.6 566.6,102.6 567.1,102.6 567.6,102.6 568.1,102.6 568.6,102.6 569.1,102.6 569.6,102.6 570.1,102.6 570.6,102.6 571.1,102.6 571.6,102.6 572.1,102.6 572.6,102.6 573.1,102.6 573.6,102.6 574.1,102.6 574.6,102.6 575.1,102.6 575.6,102.6 576.1,102.6 576.6,102.6 577.1,102.6 577.6,102.6 578.1,102.6 578.6,102.6 579.1,102.6 579.6,102.6 580.1,102.6 580.6,102.6 581.1,102.6 581.6,102.6 582.1,102.6 582.6,102.6 583.1,102.6 583.6,102.6 584.1,102.6 584.6,102.6 585.1,102.6 585.6,102.6 586.1,102.6 586.6,102.6 587.1,102.6 587.6,102.6 588.1,102.6 588.6,102.6 589.1,102.6 589.6,102.6 590.1,102.6 590.6,102.6 591.1,102.6 591.6,102.6 592.1,102.6 592.6,102.6 593.1,102.6 593.6,102.6 594.1,102.6 594.6,102.6 595.1,102.6 595.6,102.6 596.1,102.6 596.6,102.6 597.1,102.6 597.6,102.6 598.1,102.6 598.6,102.6 599.1,102.6 599.6,102.6 600.1,102.6 600.6,102.6 601.1,102.6 601.6,100.92 602.1,94.52 602.6,85.02 603.1,73.01 603.6,58.8 604.1,42.6 604.3,35.6 604.6,45.99 605.1,61.81 605.6,75.6 606.1,87.13 606.6,96.07 607.1,101.72 607.6,102.6 608.1,102.6 608.6,102.6 609.1,102.6 609.6,102.6 610.1,102.6 610.6,102.6 611.1,102.6 611.6,102.6 612.1,102.6 612.6,102.6 613.1,102.6 613.6,102.6 614.1,102.6 614.6,102.6 615.1,102.6 615.6,102.6 616.1,102.6 616.6,102.6 617.1,102.6 617.6,102.6 618.1,102.6 618.6,102.6 619.1,102.6 619.6,100.45 620.1,96.07 620.6,90.11 621.1,82.81 621.6,74.32 621.9,68.7 622.1,72.49 622.6,81.21 623.1,88.75 623.6,95 624.1,99.72 624.6,102.44 625.1,102.6 625.6,102.6 626.1,102.6 626.6,102.6 627.1,102.6 627.6,102.6 628.1,102.6 628.6,102.6 629.1,102.6 629.6,102.6 630.1,102.6 630.6,102.6 631.1,102.6 631.6,102.6 632.1,102.6 632.6,102.6 633.1,102.6 633.6,102.6 634.1,102.6 634.6,102.6 635.1,102.6 635.6,102.6 636.1,102.6 636.6,102.6 637.1,102.6 637.6,102.6 638.1,102.6 638.6,102.6 639.1,102.6 639.6,102.6 640.1,102.6 640.6,102.6 641.1,102.6 641.6,102.6 642.1,102.6 642.6,102.6 643.1,102.6 643.6,102.6 644.1,102.6 644.6,102.6 645.1,102.6 645.6,102.6 646.1,102.6 646.6,102.6 647.1,102.6 647.6,102.6 648.1,102.6 648.6,102.6 649.1,102.6 649.6,102.6 650.1,102.6 650.6,102.6 651.1,102.6 651.6,102.6 652.1,102.6 652.6,102.6 653.1,102.6 653.6,102.6 654.1,102.6 654.6,102.6 655.1,102.6 655.6,102.6 656.1,102.6 656.6,102.6 657.1,102.6 657.6,102.6 658.1,102.6 658.6,102.6 659.1,102.6 659.6,102.6 660.1,102.6 660.6,102.6 661.1,102.6 661.6,102.6 662.1,102.6 662.6,102.6 663.1,102.6 663.6,102.6 664.1,102.6 664.6,102.6 665.1,102.6 665.6,102.6 666.1,102.6 666.6,102.6 667.1,102.6 667.6,102.6 668.1,100.8 668.6,97.15 669.1,92.18 669.6,86.08 670.1,79 670.6,71 671.1,79 671.6,86.08 672.1,92.18 672.6,97.15 673.1,100.8 673.6,102.6 674.1,102.6 674.6,102.6 675.1,102.6 675.6,102.6 676.1,102.6 676.6,102.6 677.1,102.6 677.6,102.6 678.1,102.6 678.6,102.6 679.1,102.6 679.6,102.6 680.1,102.6 680.6,102.6 681.1,102.6 681.6,102.6 682.1,102.6 682.6,102.6 683.1,102.6 683.6,102.6 684.1,102.6 684.6,102.6 685.1,102.6 685.6,102.6 686.1,102.6 686.6,102.6 687.1,102.6 687.6,102.6 688.1,102.6 688.6,102.6 689.1,102.6 689.6,102.6 690.1,102.6 690.6,102.6 691.1,102.6 691.6,102.6 692.1,102.6 692.6,102.6 693.1,102.6 693.6,102.22 694.1,99.76 694.6,95.88 695.1,90.87 695.6,84.88 696.1,78.01 696.4,73.5 696.6,76.54 697.1,83.58 697.6,89.75 698.1,94.97 698.6,99.09 699.1,101.87 699.6,102.6 700.1,102.6 700.6,102.6 701.1,102.6 701.6,102.6 702.1,102.6 702.6,102.6 703.1,102.6 703.6,102.6 704.1,102.6 704.6,102.6 705.1,102.6 705.6,102.6 706.1,102.6 706.6,102.6 707.1,102.6 707.6,102.6 708.1,102.6 708.6,102.6 709.1,102.6 709.6,102.6 710.1,102.6 710.6,102.6 711.1,102.6 711.6,102.6 712.1,102.6 712.6,102.6 713.1,102.6 713.6,102.6 714.1,102.6 714.6,102.6 715.1,102.6 715.6,102.6 716.1,102.6 716.6,102.6 717.1,102.6 717.6,102.6 718.1,102.6 718.6,102.6 719.1,102.6 719.6,102.6 720.1,102.6 720.6,102.6 721.1,102.6 721.6,102.6 722.1,102.6 722.6,102.6 723.1,102.6 723.6,102.6 724.1,102.6 724.6,102.6 725.1,102.6 725.6,102.6 726.1,102.6 726.6,102.6 727.1,101.51 727.6,98.62 728.1,94.54 728.6,89.45 729.1,83.5 729.6,76.74 729.7,75.3 730.1,80.89 730.6,87.17 731.1,92.61 731.6,97.12 732.1,100.52 732.6,102.48 733.1,102.6 733.6,102.6 734.1,102.6 734.6,102.6 735.1,102.6 735.6,102.6 736.1,102.6 736.6,102.6 737.1,102.48 737.6,100.56 738.1,97.22 738.6,92.8 739.1,87.45 739.6,81.28 740,75.8 740.1,77.21 740.6,83.85 741.1,89.7 741.6,94.68 742.1,98.7 742.6,101.53 743.1,102.6 743.6,102.6 744.1,102.6 744.6,102.6 745.1,102.6 745.6,102.6 746.1,102.6 746.6,102.6 747.1,102.6 747.6,102.6 748.1,102.6 748.6,102.6 749.1,102.6 749.6,102.6 750.1,102.6 750.6,102.6 751.1,102.6 751.6,102.6 752.1,102.6 752.6,102.6 753.1,102.6 753.6,102.6 754.1,102.6 754.6,102.6 755.1,102.6 755.6,102.6 756.1,102.6 756.6,102.6 757.1,102.6 757.6,102.6 758.1,102.6 758.6,102.6 759.1,102.6 759.6,102.6 760.1,102.6 760.6,102.6 761.1,102.6 761.6,102.6 762.1,102.6 762.6,102.6 763.1,102.6 763.6,102.6 764.1,102.6 764.6,102.6 765.1,102.55 765.6,101.79 766.1,100.46 766.6,98.71 767.1,96.59 767.6,94.14 768.1,91.38 768.2,90.8 768.6,93.07 769.1,95.64 769.6,97.9 770.1,99.81 770.6,101.32 771.1,102.33 771.6,102.6 772.1,102.6 772.6,102.6 773.1,102.6 773.6,102.6 774.1,102.6 774.6,102.6 775.1,102.6 775.6,102.6 776.1,102.6 776.6,102.6 777.1,102.6 777.6,102.6 778.1,102.6 778.6,102.6 779.1,102.6 779.6,102.6 780.1,102.6 780.6,102.6 781.1,102.6 781.6,102.6 782.1,102.6 782.6,102.6 783.1,102.6 783.6,102.6 784.1,102.6 784.6,102.6 785.1,102.6 785.6,102.6 786.1,102.6 786.6,102.6 787.1,102.6 787.6,102.6 788.1,102.6 788.6,102.6 789.1,102.6 789.6,102.6 790.1,102.6 790.6,102.37 791.1,100.9 791.6,98.56 792.1,95.55 792.6,91.95 793.1,87.82 793.6,83.2 794.1,87.82 794.6,91.95 795.1,95.55 795.6,98.56 796.1,100.9 796.6,102.37 797.1,102.6 797.6,102.6 798.1,102.6 798.6,102.6 799.1,102.6 799.6,102.6 800.1,102.6 800.6,102.6 801.1,102.6 801.6,102.6 802.1,102.6 802.6,102.6 803.1,102.6 803.6,102.6 804.1,102.6 804.6,102.6 805.1,102.6 805.6,102.6 806.1,102.6 806.6,102.6 807.1,102.6 807.6,102.6 808.1,102.6 808.6,101.64 809.1,99.08 809.6,95.46 810.1,90.96 810.6,85.69 811.1,79.71 811.4,75.8 811.6,78.43 812.1,84.54 812.6,89.97 813.1,94.63 813.6,98.43 814.1,101.23 814.6,102.6 815.1,102.6 815.6,102.6 816.1,102.6 816.6,102.6 817.1,102.6 817.6,102.6 818.1,102.6 818.6,102.6 819.1,102.6 819.6,102.6 820.1,102.6 820.6,102.6 821.1,102.6 821.6,102.6 822.1,102.6 822.6,102.6 823.1,102.6 823.6,102.6 824.1,102.6 824.6,102.6 825.1,102.6 825.6,102.6 826.1,102.6 826.6,102.6 827.1,102.6 827.6,102.6 828.1,102.6 828.6,102.6 829.1,102.6 829.6,102.6 830.1,102.6 830.6,102.6 831.1,102.6 831.6,102.6 832.1,102.6 832.6,102.6 833.1,102.6 833.6,102.6 834.1,102.6 834.6,102.6 835.1,102.6 835.6,102.54 836.1,102.17 836.6,101.58 837.1,100.82 837.6,99.91 838.1,98.87 838.6,97.7 839.1,96.42 839.4,95.6 839.6,96.15 840.1,97.45 840.6,98.64 841.1,99.71 841.6,100.65 842.1,101.44 842.6,102.07 843.1,102.49 843.6,102.6 844.1,102.6 844.6,102.6 845.1,102.6 845.6,102.6 846.1,102.6 846.6,102.6 847.1,102.6 847.6,102.6 848.1,102.6 848.6,102.6 849.1,102.6 849.6,102.6 850.1,102.6 850.6,102.6 851.1,102.6 851.6,102.6 852.1,102.6 852.6,101.76 853.1,100.05 853.6,97.72 854.1,94.86 854.6,91.54 855.1,87.8 855.6,91.54 856.1,94.86 856.6,97.72 857.1,100.05 857.6,101.76 858.1,102.6 858.6,102.6 859.1,102.6 859.6,102.6 860.1,102.42 860.6,101.28 861.1,99.48 861.6,97.16 862.1,94.38 862.6,91.19 862.9,89.1 863.1,90.51 863.6,93.78 864.1,96.64 864.6,99.06 865.1,100.97 865.6,102.26 866.1,102.6 866.6,102.6 867.1,102.6 867.6,102.6 868.1,102.6 868.6,102.6 869.1,102.6 869.6,102.6 870.1,102.6 870.6,102.6 871.1,102.6 871.6,102.6 872.1,102.6 872.6,102.6 873.1,102.6 873.6,102.6 874.1,102.6 874.6,102.6 875.1,102.6 875.6,102.6 876.1,102.6 876.6,102.6 877.1,102.6 877.6,102.6 878.1,102.6 878.6,102.6 879.1,102.6 879.6,102.44 880.1,101.84 880.6,100.95 881.1,99.83 881.6,98.5 882.1,96.98 882.6,95.29 882.9,94.2 883.1,94.93 883.6,96.66 884.1,98.21 884.6,99.58 885.1,100.75 885.6,101.69 886.1,102.35" fill="none" stroke="#f6a21e" stroke-width="2.6" stroke-linejoin="round" stroke-linecap="butt"/><rect x="458.7" y="22.1" width="447.2" height="83.9" fill="none" stroke="#151515" stroke-width="1.5"/><line x1="478.6" y1="106" x2="478.6" y2="112.6" stroke="#151515" stroke-width="1.5"/><text x="478.6" y="133" font-size="20.5" text-anchor="middle">0</text><line x1="581.1" y1="106" x2="581.1" y2="112.6" stroke="#151515" stroke-width="1.5"/><text x="581.1" y="133" font-size="20.5" text-anchor="middle">2</text><line x1="683.6" y1="106" x2="683.6" y2="112.6" stroke="#151515" stroke-width="1.5"/><text x="683.6" y="133" font-size="20.5" text-anchor="middle">4</text><line x1="786.1" y1="106" x2="786.1" y2="112.6" stroke="#151515" stroke-width="1.5"/><text x="786.1" y="133" font-size="20.5" text-anchor="middle">6</text><line x1="888.6" y1="106" x2="888.6" y2="112.6" stroke="#151515" stroke-width="1.5"/><text x="888.6" y="133" font-size="20.5" text-anchor="middle">8</text><text x="684.5" y="163" font-size="25" text-anchor="middle" textLength="57" lengthAdjust="spacingAndGlyphs"><tspan font-style="italic">r</tspan> (Å)</text><text x="446" y="65" font-size="27" text-anchor="middle" textLength="47.5" lengthAdjust="spacingAndGlyphs" transform="rotate(-90 446 65)"><tspan font-style="italic">g</tspan>(<tspan font-style="italic">r</tspan>)</text><path d="M466.6,216.4 C467.57,216.9 470.47,217.37 472.4,219.4 C474.33,221.43 476.47,225.72 478.2,228.6 C479.93,231.48 481.27,234.57 482.8,236.7 C484.33,238.83 485.47,240.12 487.4,241.4 C489.33,242.68 491.88,243.55 494.4,244.4 C496.92,245.25 500,245.58 502.5,246.5 C505,247.42 507.28,248.95 509.4,249.9 C511.52,250.85 513.47,252.15 515.2,252.2 C516.93,252.25 518.25,250.73 519.8,250.2 C521.35,249.67 522.95,248.73 524.5,249 C526.05,249.27 527.18,250.18 529.1,251.8 C531.02,253.42 533.68,256.77 536,258.7 C538.32,260.63 540.3,262.05 543,263.4 C545.7,264.75 549.12,266.12 552.2,266.8 C555.28,267.48 558.78,267.5 561.5,267.5 C564.22,267.5 566.18,267.57 568.5,266.8 C570.82,266.03 572.7,264.43 575.4,262.9 C578.1,261.37 581.62,259.45 584.7,257.6 C587.78,255.75 591.2,253.85 593.9,251.8 C596.6,249.75 598.58,247.62 600.9,245.3 C603.22,242.98 605.48,239.63 607.8,237.9 C610.12,236.17 612.68,235.87 614.8,234.9 C616.92,233.93 618.58,234.12 620.5,232.1 C622.42,230.08 624.55,226.47 626.3,222.8 C628.05,219.13 629.45,214.53 631,210.1 C632.55,205.67 634.07,199.48 635.6,196.2 C637.13,192.92 638.65,190.6 640.2,190.4 C641.75,190.2 643.17,192.3 644.9,195 C646.63,197.7 649.65,204.67 650.6,206.6" fill="none" stroke="#1f77b4" stroke-width="2.9" stroke-linejoin="round"/><rect x="458.6" y="186.9" width="201.4" height="84.2" fill="none" stroke="#151515" stroke-width="1.5"/><line x1="467.5" y1="271.1" x2="467.5" y2="277.7" stroke="#151515" stroke-width="1.5"/><text x="469.6" y="298.1" font-size="20.5" text-anchor="middle" textLength="27" lengthAdjust="spacingAndGlyphs">−2</text><line x1="559.2" y1="271.1" x2="559.2" y2="277.7" stroke="#151515" stroke-width="1.5"/><text x="559.2" y="298.1" font-size="20.5" text-anchor="middle">0</text><line x1="650.7" y1="271.1" x2="650.7" y2="277.7" stroke="#151515" stroke-width="1.5"/><text x="650.7" y="298.1" font-size="20.5" text-anchor="middle">2</text><text x="564.2" y="329.9" font-size="24" text-anchor="middle" textLength="134.5" lengthAdjust="spacingAndGlyphs"><tspan font-style="italic">E</tspan>−<tspan font-style="italic">E</tspan><tspan font-size="17" dy="4">F</tspan><tspan dy="-4"> (eV)</tspan></text><text font-size="19.5" text-anchor="middle" transform="translate(426.7 227) rotate(-90)"><tspan x="0" y="0" textLength="82" lengthAdjust="spacingAndGlyphs">Electron</tspan></text><text font-size="19.5" text-anchor="middle" transform="translate(451 227.8) rotate(-90)"><tspan x="0" y="0" textLength="46.5" lengthAdjust="spacingAndGlyphs">DOS</tspan></text><g fill="#a1d4a8" stroke="#8fc898" stroke-width="0.6"><rect x="713.9" y="261.88" width="3.65" height="9.22"/><rect x="717.55" y="259.59" width="3.65" height="11.51"/><rect x="721.2" y="262.48" width="3.65" height="8.62"/><rect x="724.85" y="259.91" width="3.65" height="11.19"/><rect x="728.5" y="258.32" width="3.65" height="12.78"/><rect x="732.15" y="258.68" width="3.65" height="12.42"/><rect x="735.8" y="256.65" width="3.65" height="14.45"/><rect x="739.45" y="253.42" width="3.65" height="17.68"/><rect x="743.1" y="248.5" width="3.65" height="22.6"/><rect x="746.75" y="251.72" width="3.65" height="19.38"/><rect x="750.4" y="249.7" width="3.65" height="21.4"/><rect x="754.05" y="255.24" width="3.65" height="15.86"/><rect x="757.7" y="259.9" width="3.65" height="11.2"/><rect x="761.35" y="260.41" width="3.65" height="10.69"/><rect x="765" y="259.69" width="3.65" height="11.41"/><rect x="768.65" y="256.39" width="3.65" height="14.71"/><rect x="772.3" y="252.42" width="3.65" height="18.68"/><rect x="775.95" y="248.05" width="3.65" height="23.05"/><rect x="779.6" y="237" width="3.65" height="34.1"/><rect x="783.25" y="243.01" width="3.65" height="28.09"/><rect x="786.9" y="238.65" width="3.65" height="32.45"/><rect x="790.55" y="242.67" width="3.65" height="28.43"/><rect x="794.2" y="251.76" width="3.65" height="19.34"/><rect x="797.85" y="250.4" width="3.65" height="20.7"/><rect x="801.5" y="250.06" width="3.65" height="21.04"/><rect x="805.15" y="246.1" width="3.65" height="25"/><rect x="808.8" y="252.05" width="3.65" height="19.05"/><rect x="812.45" y="248.52" width="3.65" height="22.58"/><rect x="816.1" y="246.6" width="3.65" height="24.5"/><rect x="819.75" y="252.95" width="3.65" height="18.15"/><rect x="823.4" y="258.22" width="3.65" height="12.88"/><rect x="827.05" y="258.22" width="3.65" height="12.88"/><rect x="830.7" y="255.05" width="3.65" height="16.05"/><rect x="834.35" y="258.6" width="3.65" height="12.5"/><rect x="838" y="260.41" width="3.65" height="10.69"/><rect x="841.65" y="254.3" width="3.65" height="16.8"/><rect x="845.3" y="252.91" width="3.65" height="18.19"/><rect x="848.95" y="248.66" width="3.65" height="22.44"/><rect x="852.6" y="222.91" width="3.65" height="48.19"/><rect x="856.25" y="191.2" width="3.65" height="79.9"/><rect x="859.9" y="227.83" width="3.65" height="43.27"/><rect x="863.55" y="247.43" width="3.65" height="23.67"/><rect x="867.2" y="267.02" width="3.65" height="4.08"/><rect x="870.85" y="268.61" width="3.65" height="2.49"/><rect x="874.5" y="268.82" width="3.65" height="2.28"/><rect x="878.15" y="269.3" width="3.65" height="1.8"/><rect x="881.8" y="269.74" width="3.65" height="1.36"/><rect x="885.45" y="270.16" width="3.65" height="0.94"/><rect x="889.1" y="270.04" width="3.65" height="1.06"/><rect x="892.75" y="270.05" width="3.65" height="1.05"/><rect x="896.4" y="270.65" width="3.65" height="0.45"/></g><polyline points="713.3,270.7 716.9,257.6 723,262.5 729.1,258.2 735.2,258.8 741.3,253.4 747.4,251.6 753.5,252.2 759.6,260 765.7,260.7 771.8,255.2 777.9,247.9 784,244.3 790.1,237 796.2,252.2 802.2,249.1 808.3,254.3 814.4,248.4 820.5,251.4 826.6,260.2 832.7,254.9 838.8,261.4 844.9,255.5 851,248.4 857.1,203 869.3,268.5 875.4,268.7 881.5,269.5 887.6,270.2 893.7,269.9 899.1,270.8" fill="none" stroke="#176b31" stroke-width="3.3" stroke-linejoin="round" stroke-linecap="butt"/><rect x="704.8" y="187" width="200.9" height="84.1" fill="none" stroke="#151515" stroke-width="1.5"/><line x1="713.9" y1="271.1" x2="713.9" y2="277.7" stroke="#151515" stroke-width="1.5"/><text x="713.9" y="298.1" font-size="20.5" text-anchor="middle">0</text><line x1="783.5" y1="271.1" x2="783.5" y2="277.7" stroke="#151515" stroke-width="1.5"/><text x="783.5" y="298.1" font-size="20.5" text-anchor="middle" textLength="22" lengthAdjust="spacingAndGlyphs">25</text><line x1="853.1" y1="271.1" x2="853.1" y2="277.7" stroke="#151515" stroke-width="1.5"/><text x="853.1" y="298.1" font-size="20.5" text-anchor="middle" textLength="22" lengthAdjust="spacingAndGlyphs">50</text><text x="803" y="329.3" font-size="24" text-anchor="middle" textLength="98" lengthAdjust="spacingAndGlyphs"><tspan font-style="italic">ω</tspan> (THz)</text><text font-size="19.5" text-anchor="middle" transform="translate(678.2 225.5) rotate(-90)"><tspan x="0" y="0" textLength="75" lengthAdjust="spacingAndGlyphs">Phonon</tspan></text><text font-size="19.5" text-anchor="middle" transform="translate(702 225.8) rotate(-90)"><tspan x="0" y="0" textLength="46.5" lengthAdjust="spacingAndGlyphs">DOS</tspan></text><polyline points="478.6,430.3 540.5,430.3 543.2,424.4 545.1,404.5 546.5,353.6 550.7,353.6 552.4,411.2 554.7,423.7 557.7,417.8 559.7,420.4 563,421.1 565.6,425.7 570.3,429.7 580.2,430.3 582.8,425 586.2,427.7 590.1,428.4 592.8,424.4 596.1,415.1 598.7,384.7 601,361.5 603.4,391.3 606,408.5 610,420.4 612.6,421.7 617.2,420.4 621.2,402.6 624.5,416.4 628.5,423.7 632.5,423.1 634.4,427 636.4,424.4 639.7,427.7 642.7,428.2 647.3,429.4 652,426.3 656.6,425.5 659.7,420.1 662.8,412.4 665.1,410.9 667.7,405.5 670.5,410.9 672.8,417.8 675.9,420.4 680.5,424.8 684.4,418.6 688.2,416.3 690.6,411.6 693.3,412.4 696.7,418.6 700.6,424 705.2,424 708.3,424.8 711.4,426.3 714.5,424 716.8,423.2 719.1,419.4 723.7,415.5 726.1,416.7 729.2,413.2 731.5,416.3 734.1,410.1 736.9,413.2 740,417.8 742.3,417.8 744.6,420.9 747.7,421.7 752.3,426.3 755.4,424 761.6,423.5 764.6,424 767.7,422.4 770,425.1 773,423.8 777.6,425.3 781.3,422.3 784.4,423.1 787.4,423.8 790.4,419.6 792.7,420 795.7,417 798.7,417.8 803.2,414.4 806.3,415.5 810,417 813.8,420.8 816.1,418.5 821.4,424.6 825.9,423.1 828.9,425.3 836.5,424.6 839.5,421.5 842.5,423.1 847,421.5 852.3,419.6 857.6,420.8 862.1,419.6 866.7,421.2 870.5,421.5 874.2,423.5 877.3,422.3 881.8,423.8 886,422.8" fill="none" stroke="#f6a21e" stroke-width="2.6" stroke-linejoin="round" stroke-linecap="butt"/><rect x="458.7" y="350.3" width="447.2" height="83.9" fill="none" stroke="#151515" stroke-width="1.5"/><line x1="478.6" y1="434.2" x2="478.6" y2="440.8" stroke="#151515" stroke-width="1.5"/><text x="478.6" y="461.2" font-size="20.5" text-anchor="middle">0</text><line x1="581.1" y1="434.2" x2="581.1" y2="440.8" stroke="#151515" stroke-width="1.5"/><text x="581.1" y="461.2" font-size="20.5" text-anchor="middle">2</text><line x1="683.6" y1="434.2" x2="683.6" y2="440.8" stroke="#151515" stroke-width="1.5"/><text x="683.6" y="461.2" font-size="20.5" text-anchor="middle">4</text><line x1="786.1" y1="434.2" x2="786.1" y2="440.8" stroke="#151515" stroke-width="1.5"/><text x="786.1" y="461.2" font-size="20.5" text-anchor="middle">6</text><line x1="888.6" y1="434.2" x2="888.6" y2="440.8" stroke="#151515" stroke-width="1.5"/><text x="888.6" y="461.2" font-size="20.5" text-anchor="middle">8</text><text x="684.5" y="491.2" font-size="25" text-anchor="middle" textLength="57" lengthAdjust="spacingAndGlyphs"><tspan font-style="italic">r</tspan> (Å)</text><text x="446" y="393.2" font-size="27" text-anchor="middle" textLength="47.5" lengthAdjust="spacingAndGlyphs" transform="rotate(-90 446 393.2)"><tspan font-style="italic">g</tspan>(<tspan font-style="italic">r</tspan>)</text><path d="M466.1,582.6 C466.95,582.13 469.58,580.08 471.2,579.8 C472.82,579.52 474.25,580.43 475.8,580.9 C477.35,581.37 478.75,582.78 480.5,582.6 C482.25,582.42 484.38,580.58 486.3,579.8 C488.22,579.02 490.08,577.72 492,577.9 C493.92,578.08 495.87,579.82 497.8,580.9 C499.73,581.98 501.47,584.2 503.6,584.4 C505.73,584.6 508.67,581.72 510.6,582.1 C512.53,582.48 513.67,584.7 515.2,586.7 C516.73,588.7 518.33,592.87 519.8,594.1 C521.27,595.33 522.45,594.95 524,594.1 C525.55,593.25 527.48,590.15 529.1,589 C530.72,587.85 531.77,586.88 533.7,587.2 C535.63,587.52 538.97,591.37 540.7,590.9 C542.43,590.43 542.95,588.57 544.1,584.4 C545.25,580.23 546.25,573.62 547.6,565.9 C548.95,558.18 550.65,545.43 552.2,538.1 C553.75,530.77 555.43,525.07 556.9,521.9 C558.37,518.73 559.65,518.52 561,519.1 C562.35,519.68 563.57,521.47 565,525.4 C566.43,529.33 568.07,535.95 569.6,542.7 C571.13,549.45 572.65,558.95 574.2,565.9 C575.75,572.85 577.47,580.47 578.9,584.4 C580.33,588.33 581.45,589.5 582.8,589.5 C584.15,589.5 585.33,587.95 587,584.4 C588.67,580.85 590.98,571.75 592.8,568.2 C594.62,564.65 596.17,562.72 597.9,563.1 C599.63,563.48 601.35,567.72 603.2,570.5 C605.05,573.28 607.07,577.57 609,579.8 C610.93,582.03 612.88,583.9 614.8,583.9 C616.72,583.9 618.58,583.57 620.5,579.8 C622.42,576.03 624.55,566.7 626.3,561.3 C628.05,555.9 629.53,550.57 631,547.4 C632.47,544.23 633.57,541.92 635.1,542.3 C636.63,542.68 638.38,545 640.2,549.7 C642.02,554.4 644.27,566.15 646,570.5 C647.73,574.85 649.83,574.92 650.6,575.8" fill="none" stroke="#1f77b4" stroke-width="2.9" stroke-linejoin="round"/><rect x="458.6" y="515.1" width="201.4" height="84.2" fill="none" stroke="#151515" stroke-width="1.5"/><line x1="467.5" y1="599.3" x2="467.5" y2="605.9" stroke="#151515" stroke-width="1.5"/><text x="469.6" y="626.3" font-size="20.5" text-anchor="middle" textLength="27" lengthAdjust="spacingAndGlyphs">−2</text><line x1="559.2" y1="599.3" x2="559.2" y2="605.9" stroke="#151515" stroke-width="1.5"/><text x="559.2" y="626.3" font-size="20.5" text-anchor="middle">0</text><line x1="650.7" y1="599.3" x2="650.7" y2="605.9" stroke="#151515" stroke-width="1.5"/><text x="650.7" y="626.3" font-size="20.5" text-anchor="middle">2</text><text x="564.2" y="658.1" font-size="24" text-anchor="middle" textLength="134.5" lengthAdjust="spacingAndGlyphs"><tspan font-style="italic">E</tspan>−<tspan font-style="italic">E</tspan><tspan font-size="17" dy="4">F</tspan><tspan dy="-4"> (eV)</tspan></text><text font-size="19.5" text-anchor="middle" transform="translate(426.7 555.2) rotate(-90)"><tspan x="0" y="0" textLength="82" lengthAdjust="spacingAndGlyphs">Electron</tspan></text><text font-size="19.5" text-anchor="middle" transform="translate(451 556) rotate(-90)"><tspan x="0" y="0" textLength="46.5" lengthAdjust="spacingAndGlyphs">DOS</tspan></text><g fill="#a1d4a8" stroke="#8fc898" stroke-width="0.6"><rect x="713.2" y="566.66" width="4" height="32.64"/><rect x="717.2" y="548.59" width="4" height="50.71"/><rect x="721.2" y="538.83" width="4" height="60.47"/><rect x="725.2" y="533.5" width="4" height="65.8"/><rect x="729.2" y="539" width="4" height="60.3"/><rect x="733.2" y="531" width="4" height="68.3"/><rect x="737.2" y="537.05" width="4" height="62.25"/><rect x="741.2" y="543.41" width="4" height="55.89"/><rect x="745.2" y="549.83" width="4" height="49.47"/><rect x="749.2" y="539.65" width="4" height="59.65"/><rect x="753.2" y="539.71" width="4" height="59.59"/><rect x="757.2" y="543.2" width="4" height="56.1"/><rect x="761.2" y="523.2" width="4" height="76.1"/><rect x="765.2" y="547.4" width="4" height="51.9"/><rect x="769.2" y="534.42" width="4" height="64.88"/><rect x="773.2" y="534.75" width="4" height="64.55"/><rect x="777.2" y="538.9" width="4" height="60.4"/><rect x="781.2" y="519.5" width="4" height="79.8"/><rect x="785.2" y="543.2" width="4" height="56.1"/><rect x="789.2" y="531" width="4" height="68.3"/><rect x="793.2" y="539.5" width="4" height="59.8"/><rect x="797.2" y="540.3" width="4" height="59"/><rect x="801.2" y="540.79" width="4" height="58.51"/><rect x="805.2" y="542.46" width="4" height="56.84"/><rect x="809.2" y="550.5" width="4" height="48.8"/><rect x="813.2" y="539.3" width="4" height="60"/><rect x="817.2" y="552.73" width="4" height="46.57"/><rect x="821.2" y="565.8" width="4" height="33.5"/><rect x="825.2" y="563.77" width="4" height="35.53"/><rect x="829.2" y="559.9" width="4" height="39.4"/><rect x="833.2" y="561.7" width="4" height="37.6"/><rect x="837.2" y="561.7" width="4" height="37.6"/><rect x="841.2" y="555.2" width="4" height="44.1"/><rect x="845.2" y="562.3" width="4" height="37"/><rect x="849.2" y="548.25" width="4" height="51.05"/><rect x="853.2" y="544.62" width="4" height="54.68"/><rect x="857.2" y="543.69" width="4" height="55.61"/><rect x="861.2" y="550.5" width="4" height="48.8"/><rect x="865.2" y="539.3" width="4" height="60"/><rect x="869.2" y="555.1" width="4" height="44.2"/><rect x="873.2" y="570.02" width="4" height="29.28"/><rect x="877.2" y="571.69" width="4" height="27.61"/><rect x="881.2" y="578.71" width="4" height="20.59"/><rect x="885.2" y="590.82" width="4" height="8.48"/><rect x="889.2" y="592.61" width="4" height="6.69"/><rect x="893.2" y="596.09" width="4" height="3.21"/></g><polyline points="712.7,599 715.8,558.9 721.8,540.7 728.1,532.3 734.6,534.9 740.6,537.7 746.7,551.1 752.2,537.1 759.2,543.2 764.9,532.3 771,534.4 777,534.9 783.7,526.8 789.8,534.1 795.8,540.1 802.5,540.5 808.5,543 814.2,545.7 820.1,554 826.5,564 833.6,561.7 840.1,561.7 844.8,558.7 850.7,548.7 857.2,542.8 863.7,545.7 869.6,548.7 874.9,569.9 881.4,572.6 886.7,590.6 893.2,593.5 897.3,598.8" fill="none" stroke="#176b31" stroke-width="3.3" stroke-linejoin="round" stroke-linecap="butt"/><rect x="704.8" y="515.2" width="200.9" height="84.1" fill="none" stroke="#151515" stroke-width="1.5"/><line x1="713.6" y1="599.3" x2="713.6" y2="605.9" stroke="#151515" stroke-width="1.5"/><text x="713.6" y="626.3" font-size="20.5" text-anchor="middle">0</text><line x1="781.9" y1="599.3" x2="781.9" y2="605.9" stroke="#151515" stroke-width="1.5"/><text x="781.9" y="626.3" font-size="20.5" text-anchor="middle" textLength="22" lengthAdjust="spacingAndGlyphs">25</text><line x1="850.4" y1="599.3" x2="850.4" y2="605.9" stroke="#151515" stroke-width="1.5"/><text x="850.4" y="626.3" font-size="20.5" text-anchor="middle" textLength="22" lengthAdjust="spacingAndGlyphs">50</text><text x="803" y="657.5" font-size="24" text-anchor="middle" textLength="98" lengthAdjust="spacingAndGlyphs"><tspan font-style="italic">ω</tspan> (THz)</text><text font-size="19.5" text-anchor="middle" transform="translate(678.2 553.7) rotate(-90)"><tspan x="0" y="0" textLength="75" lengthAdjust="spacingAndGlyphs">Phonon</tspan></text><text font-size="19.5" text-anchor="middle" transform="translate(702 554) rotate(-90)"><tspan x="0" y="0" textLength="46.5" lengthAdjust="spacingAndGlyphs">DOS</tspan></text><polyline points="478.6,753.3 539.8,753.3 542.2,736.8 544.5,701.1 546.1,686.5 548,677 550.7,682.6 552.8,698.4 555.1,720.9 557,726.2 560.4,731.5 563.4,729.5 566.3,736.8 568.7,747.4 572.9,752.7 580.9,753.3 583.5,734.2 586.2,724.2 588.8,728.2 591.4,732.8 593.8,713 596.1,712.3 599.1,712.3 601.4,715 604,717 606.7,715.9 609.3,726.9 612,728.2 614.6,732.8 617.2,735.7 621.2,733.1 624.5,736.1 627.8,736.8 629.8,738.1 632.5,741.8 635.1,739.4 637.3,740.8 640.4,744.4 645,741.7 647.3,736.6 650.4,738.2 653.2,735.9 655.5,726.6 658.2,734.3 660.5,735.1 663.1,724.3 665.9,726.6 668.2,734.6 670.5,731.2 672.8,736.6 675.1,732.5 678.2,732.8 681,728.2 683.6,738.2 685.9,726.6 689,732 691.3,735.9 693.7,730.5 698.3,739.7 701.4,730.5 705.2,735.1 708.3,735.6 711.4,733.6 714,740.8 718.3,737.4 723,733.6 727.3,738.6 730.7,733.2 734.6,732.8 737.2,730.5 740,735.1 743,734.6 747.7,739.7 752.3,735.9 755.4,733.1 759.2,735.6 762.8,733.6 765.4,739.7 770,737.1 773,742 776,737.5 780.6,737.5 783.3,732.5 786.3,739 789.6,736.7 791.9,739 794.2,736 797.2,737.9 801.7,736 804,736.7 806.3,733.4 808.5,734.5 811.5,732.5 815.3,734.9 819.1,736.7 821.4,741 824.1,732.9 826.6,735.2 830.4,740.5 833.4,739 836.5,737.9 842.5,742 844.8,736.7 847.8,739 852.3,736 855.3,740.5 860.6,739.7 865.2,743.1 868.2,737 872.7,736 875.7,736.4 878.8,735.2 881.8,738.5 886.3,741" fill="none" stroke="#f6a21e" stroke-width="2.6" stroke-linejoin="round" stroke-linecap="butt"/><rect x="458.7" y="673.2" width="447.2" height="83.9" fill="none" stroke="#151515" stroke-width="1.5"/><line x1="478.6" y1="757.1" x2="478.6" y2="763.7" stroke="#151515" stroke-width="1.5"/><text x="478.6" y="784.1" font-size="20.5" text-anchor="middle">0</text><line x1="581.1" y1="757.1" x2="581.1" y2="763.7" stroke="#151515" stroke-width="1.5"/><text x="581.1" y="784.1" font-size="20.5" text-anchor="middle">2</text><line x1="683.6" y1="757.1" x2="683.6" y2="763.7" stroke="#151515" stroke-width="1.5"/><text x="683.6" y="784.1" font-size="20.5" text-anchor="middle">4</text><line x1="786.1" y1="757.1" x2="786.1" y2="763.7" stroke="#151515" stroke-width="1.5"/><text x="786.1" y="784.1" font-size="20.5" text-anchor="middle">6</text><line x1="888.6" y1="757.1" x2="888.6" y2="763.7" stroke="#151515" stroke-width="1.5"/><text x="888.6" y="784.1" font-size="20.5" text-anchor="middle">8</text><text x="684.5" y="814.1" font-size="25" text-anchor="middle" textLength="57" lengthAdjust="spacingAndGlyphs"><tspan font-style="italic">r</tspan> (Å)</text><text x="446" y="716.1" font-size="27" text-anchor="middle" textLength="47.5" lengthAdjust="spacingAndGlyphs" transform="rotate(-90 446 716.1)"><tspan font-style="italic">g</tspan>(<tspan font-style="italic">r</tspan>)</text><path d="M466.6,909 C467.57,907.58 470.47,904.62 472.4,900.5 C474.33,896.38 476.47,888.55 478.2,884.3 C479.93,880.05 481.27,875.58 482.8,875 C484.33,874.42 485.87,876.75 487.4,880.8 C488.93,884.85 490.27,894.17 492,899.3 C493.73,904.43 496.05,910.45 497.8,911.6 C499.55,912.75 500.95,909.02 502.5,906.2 C504.05,903.38 505.57,897.4 507.1,894.7 C508.63,892 510.15,890 511.7,890 C513.25,890 514.85,892.77 516.4,894.7 C517.95,896.63 519.65,901.8 521,901.6 C522.35,901.4 523.15,899.1 524.5,893.5 C525.85,887.9 527.57,875.92 529.1,868 C530.63,860.08 532.35,850.35 533.7,846 C535.05,841.65 535.85,841.12 537.2,841.9 C538.55,842.68 540.07,846.15 541.8,850.7 C543.53,855.25 545.87,865.35 547.6,869.2 C549.33,873.05 550.65,872.83 552.2,873.8 C553.75,874.77 555.35,874.03 556.9,875 C558.45,875.97 559.77,878.13 561.5,879.6 C563.23,881.07 565.37,883.33 567.3,883.8 C569.23,884.27 571.37,881.93 573.1,882.4 C574.83,882.87 575.77,883.2 577.7,886.6 C579.63,890 582.38,898.75 584.7,902.8 C587.02,906.85 589.48,910.52 591.6,910.9 C593.72,911.28 595.28,909.53 597.4,905.1 C599.52,900.67 602.18,890.87 604.3,884.3 C606.42,877.73 608.35,869.57 610.1,865.7 C611.85,861.83 613.25,860.72 614.8,861.1 C616.35,861.48 617.67,863.37 619.4,868 C621.13,872.63 623.27,882.33 625.2,888.9 C627.13,895.47 628.88,902.47 631,907.4 C633.12,912.33 635.98,917.15 637.9,918.5 C639.82,919.85 640.95,917.15 642.5,915.5 C644.05,913.85 645.73,909.63 647.2,908.6 C648.67,907.57 650.62,909.18 651.3,909.3" fill="none" stroke="#1f77b4" stroke-width="2.9" stroke-linejoin="round"/><rect x="458.6" y="838" width="201.4" height="84.2" fill="none" stroke="#151515" stroke-width="1.5"/><line x1="467.5" y1="922.2" x2="467.5" y2="928.8" stroke="#151515" stroke-width="1.5"/><text x="469.6" y="949.2" font-size="20.5" text-anchor="middle" textLength="27" lengthAdjust="spacingAndGlyphs">−2</text><line x1="559.2" y1="922.2" x2="559.2" y2="928.8" stroke="#151515" stroke-width="1.5"/><text x="559.2" y="949.2" font-size="20.5" text-anchor="middle">0</text><line x1="650.7" y1="922.2" x2="650.7" y2="928.8" stroke="#151515" stroke-width="1.5"/><text x="650.7" y="949.2" font-size="20.5" text-anchor="middle">2</text><text x="564.2" y="981" font-size="24" text-anchor="middle" textLength="134.5" lengthAdjust="spacingAndGlyphs"><tspan font-style="italic">E</tspan>−<tspan font-style="italic">E</tspan><tspan font-size="17" dy="4">F</tspan><tspan dy="-4"> (eV)</tspan></text><text font-size="19.5" text-anchor="middle" transform="translate(426.7 878.1) rotate(-90)"><tspan x="0" y="0" textLength="82" lengthAdjust="spacingAndGlyphs">Electron</tspan></text><text font-size="19.5" text-anchor="middle" transform="translate(451 878.9) rotate(-90)"><tspan x="0" y="0" textLength="46.5" lengthAdjust="spacingAndGlyphs">DOS</tspan></text><g fill="#a1d4a8" stroke="#8fc898" stroke-width="0.6"><rect x="713.95" y="888.2" width="4.05" height="34"/><rect x="718" y="863.75" width="4.05" height="58.45"/><rect x="722.05" y="845.6" width="4.05" height="76.6"/><rect x="726.1" y="845.53" width="4.05" height="76.67"/><rect x="730.15" y="842.5" width="4.05" height="79.7"/><rect x="734.2" y="858.3" width="4.05" height="63.9"/><rect x="738.25" y="842.5" width="4.05" height="79.7"/><rect x="742.3" y="861.3" width="4.05" height="60.9"/><rect x="746.35" y="856.79" width="4.05" height="65.41"/><rect x="750.4" y="864.37" width="4.05" height="57.83"/><rect x="754.45" y="861.54" width="4.05" height="60.66"/><rect x="758.5" y="858.32" width="4.05" height="63.88"/><rect x="762.55" y="868" width="4.05" height="54.2"/><rect x="766.6" y="861.93" width="4.05" height="60.27"/><rect x="770.65" y="859.92" width="4.05" height="62.28"/><rect x="774.7" y="864.4" width="4.05" height="57.8"/><rect x="778.75" y="855.9" width="4.05" height="66.3"/><rect x="782.8" y="864.97" width="4.05" height="57.23"/><rect x="786.85" y="869.35" width="4.05" height="52.85"/><rect x="790.9" y="878.3" width="4.05" height="43.9"/><rect x="794.95" y="866.2" width="4.05" height="56"/><rect x="799" y="884.4" width="4.05" height="37.8"/><rect x="803.05" y="882.5" width="4.05" height="39.7"/><rect x="807.1" y="891.2" width="4.05" height="31"/><rect x="811.15" y="894.7" width="4.05" height="27.5"/><rect x="815.2" y="885.9" width="4.05" height="36.3"/><rect x="819.25" y="891.2" width="4.05" height="31"/><rect x="823.3" y="891.2" width="4.05" height="31"/><rect x="827.35" y="894.7" width="4.05" height="27.5"/><rect x="831.4" y="885.9" width="4.05" height="36.3"/><rect x="835.45" y="891.2" width="4.05" height="31"/><rect x="839.5" y="893.2" width="4.05" height="29"/><rect x="843.55" y="895.85" width="4.05" height="26.35"/><rect x="847.6" y="901.69" width="4.05" height="20.51"/><rect x="851.65" y="899.08" width="4.05" height="23.12"/><rect x="855.7" y="891.62" width="4.05" height="30.58"/><rect x="859.75" y="896.89" width="4.05" height="25.31"/><rect x="863.8" y="901.74" width="4.05" height="20.46"/><rect x="867.85" y="906.23" width="4.05" height="15.97"/><rect x="871.9" y="917.1" width="4.05" height="5.1"/><rect x="875.95" y="909.4" width="4.05" height="12.8"/><rect x="880" y="913.99" width="4.05" height="8.21"/><rect x="884.05" y="916.55" width="4.05" height="5.65"/><rect x="888.1" y="917.7" width="4.05" height="4.5"/><rect x="892.15" y="917.7" width="4.05" height="4.5"/></g><polyline points="713.1,922 716.4,883.2 722.4,851 729.1,844.6 735.2,852.8 741.2,850.8 747.9,855.9 753.4,866.2 759.4,857.1 765.5,863.7 772.2,859.9 778.2,860.1 784.3,864.4 790.4,871 797,868.6 802.5,880.7 808.3,891.2 815.3,891.2 823.6,891.2 831.3,891.2 838.3,891.2 845.4,895.6 851.3,904.1 857.4,891.2 863.7,899.4 869.6,905.9 875.5,913 881.4,913.6 887.9,917.7 894.4,917.7 897.3,921.8" fill="none" stroke="#176b31" stroke-width="3.3" stroke-linejoin="round" stroke-linecap="butt"/><rect x="704.8" y="838.1" width="200.9" height="84.1" fill="none" stroke="#151515" stroke-width="1.5"/><line x1="713.9" y1="922.2" x2="713.9" y2="928.8" stroke="#151515" stroke-width="1.5"/><text x="713.9" y="949.2" font-size="20.5" text-anchor="middle">0</text><line x1="836.1" y1="922.2" x2="836.1" y2="928.8" stroke="#151515" stroke-width="1.5"/><text x="836.1" y="949.2" font-size="20.5" text-anchor="middle" textLength="22" lengthAdjust="spacingAndGlyphs">50</text><text x="803" y="980.4" font-size="24" text-anchor="middle" textLength="98" lengthAdjust="spacingAndGlyphs"><tspan font-style="italic">ω</tspan> (THz)</text><text font-size="19.5" text-anchor="middle" transform="translate(678.2 876.6) rotate(-90)"><tspan x="0" y="0" textLength="75" lengthAdjust="spacingAndGlyphs">Phonon</tspan></text><text font-size="19.5" text-anchor="middle" transform="translate(702 876.9) rotate(-90)"><tspan x="0" y="0" textLength="46.5" lengthAdjust="spacingAndGlyphs">DOS</tspan></text></svg></body></html>
